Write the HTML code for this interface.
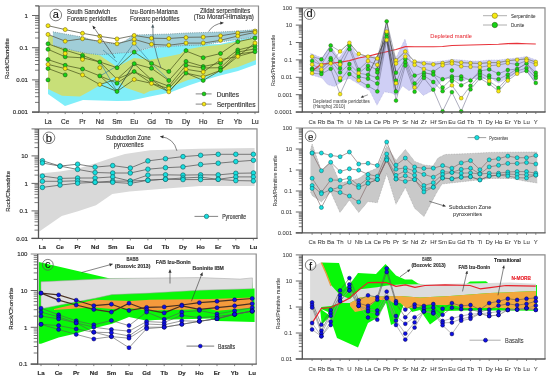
<!DOCTYPE html><html><head><meta charset="utf-8"><style>html,body{margin:0;padding:0;background:#fff;}svg{display:block;font-family:"Liberation Sans",sans-serif;will-change:transform;}</style></head><body>
<svg width="550" height="379" viewBox="0 0 550 379">
<rect width="550" height="379" fill="#fff"/>
<polygon points="48,45 65,48 83,52 100,54.5 117,53 134,52 151,48 169,46.5 186,45 203,44.5 220,44 238,40 256,36.5 256,64.5 238,71 220,75.5 205,80 190,85 170,92.5 150,96.5 130,100.7 117,101 100,100.5 83,100 65,106 48,94" fill="#80eef9" stroke="none" stroke-width="0.6"/>
<polygon points="48,36 53,36 53,45 65,48 83,52 100,55.5 117,67 134,58 150,59.8 168,56.5 180,54 186,49.5 203,46.5 220,45 238,41.5 256,37.5 256,60 238,67 220,71.5 208,76 188,80 168,88 150,91 144,94 125,87.5 114,77 102,84 90,91 80,96.4 62,95.7 48,89" fill="#c8df78" stroke="none" stroke-width="0.6"/>
<polygon points="52.9,31.8 65,34 82.3,37 100.9,42.7 117,44 125,41 134,35 151,34.5 169,34 186,33 203,32.5 220,32 238,31 257.5,29.5 257.5,36.6 238,39.5 220,42 203,45 186,45.5 169,46.5 151,47.5 134,52 117,53.3 100.9,54.7 87.8,53.6 74.7,50.9 63.8,48.2 52.9,45.4" fill="#a0ced8" stroke="none" stroke-width="0.6"/>
<polyline points="52.9,31.8 65,34 82.3,37 100.9,42.7 117,44 125,41 134,35 151,34.5 169,34 186,33 203,32.5 220,32 238,31 257.5,29.5" fill="none" stroke="#5a7f88" stroke-width="0.7" stroke-linejoin="round" stroke-dasharray="1,1.2"/>
<polyline points="257.5,36.6 238,39.5 220,42 203,45 186,45.5 169,46.5 151,47.5 134,52 117,53.3 100.9,54.7 87.8,53.6 74.7,50.9 63.8,48.2 52.9,45.4" fill="none" stroke="#5a7f88" stroke-width="0.7" stroke-linejoin="round" stroke-dasharray="1,1.2"/>
<polyline points="103,50 117,62" fill="none" stroke="#3f86a0" stroke-width="0.7" stroke-linejoin="round"/>
<polyline points="134,43.2 117,66 100,76" fill="none" stroke="#3f86a0" stroke-width="0.7" stroke-linejoin="round"/>
<polyline points="134,43.2 151,63 169,80" fill="none" stroke="#3f86a0" stroke-width="0.7" stroke-linejoin="round"/>
<polyline points="100,62 117,91.4 134,63.7" fill="none" stroke="#3f86a0" stroke-width="0.7" stroke-linejoin="round"/>
<polyline points="48,25.7 65.2,29.6 82.5,33.3 99.8,36.3 117,38.9 134.2,35.4 151.5,38.2 168.8,38.5 186,37.3 203.2,37.1 220.5,35.8 237.8,33 255,31" fill="none" stroke="#5a5a4a" stroke-width="0.8" stroke-linejoin="round"/>
<polyline points="48,34.4 65.2,41.2 82.5,38.7 99.8,41.2 117,43.8 134.2,39.3 151.5,44.3 168.8,45.2 186,43.1 203.2,43.1 220.5,40.3 237.8,36 255,32.4" fill="none" stroke="#5a5a4a" stroke-width="0.8" stroke-linejoin="round"/>
<polyline points="48,43.8 65.2,50.2 82.5,55.4 99.8,62 117,67.7 134.2,52.1 151.5,63.4 168.8,71.5 186,51 203.2,57.7 220.5,53.5 237.8,41.7 255,38" fill="none" stroke="#4d5a1e" stroke-width="0.75" stroke-linejoin="round"/>
<polyline points="48,49.3 65.2,56.8 82.5,57.8 99.8,62 117,79.2 134.2,63.7 151.5,68.3 168.8,80.5 186,61.4 203.2,66.5 220.5,63 237.8,50 255,45.8" fill="none" stroke="#4d5a1e" stroke-width="0.75" stroke-linejoin="round"/>
<polyline points="48,59.6 65.2,65.3 82.5,69 99.8,75.9 117,83.2 134.2,71.6 151.5,79.7 168.8,86.2 186,65.2 203.2,68 220.5,67.7 237.8,52.1 255,48.8" fill="none" stroke="#4d5a1e" stroke-width="0.75" stroke-linejoin="round"/>
<polyline points="48,64.4 65.2,68.6 82.5,74.9 99.8,84.5 117,91.4 134.2,79.5 151.5,83.4 168.8,88.6 186,69.3 203.2,72 220.5,59.8 237.8,56.4 255,43" fill="none" stroke="#4d5a1e" stroke-width="0.75" stroke-linejoin="round"/>
<polyline points="48,68.5 65.2,74.9" fill="none" stroke="#4d5a1e" stroke-width="0.75" stroke-linejoin="round"/>
<polyline points="99.8,75.9 117,91.4 134.2,63.7 151.5,79.7 168.8,91.8 186,73.1 203.2,76.8 220.5,70.4 237.8,54 255,51.7" fill="none" stroke="#4d5a1e" stroke-width="0.75" stroke-linejoin="round"/>
<polyline points="99.8,84.5 117,79.2 134.2,71.6 151.5,83.4 168.8,91.8 186,73.1 203.2,80.4 220.5,70.4 237.8,56.4 255,51.7" fill="none" stroke="#4d5a1e" stroke-width="0.75" stroke-linejoin="round"/>
<circle cx="48" cy="43.8" r="2" fill="#14d414" stroke="#1f5a14" stroke-width="0.6"/>
<circle cx="48" cy="49.3" r="2" fill="#14d414" stroke="#1f5a14" stroke-width="0.6"/>
<circle cx="48" cy="59.6" r="2" fill="#14d414" stroke="#1f5a14" stroke-width="0.6"/>
<circle cx="48" cy="68.5" r="2" fill="#14d414" stroke="#1f5a14" stroke-width="0.6"/>
<circle cx="48" cy="79.9" r="2" fill="#14d414" stroke="#1f5a14" stroke-width="0.6"/>
<circle cx="65.2" cy="50.2" r="2" fill="#14d414" stroke="#1f5a14" stroke-width="0.6"/>
<circle cx="65.2" cy="56.8" r="2" fill="#14d414" stroke="#1f5a14" stroke-width="0.6"/>
<circle cx="65.2" cy="65.3" r="2" fill="#14d414" stroke="#1f5a14" stroke-width="0.6"/>
<circle cx="65.2" cy="74.9" r="2" fill="#14d414" stroke="#1f5a14" stroke-width="0.6"/>
<circle cx="82.5" cy="55.4" r="2" fill="#14d414" stroke="#1f5a14" stroke-width="0.6"/>
<circle cx="82.5" cy="57.8" r="2" fill="#14d414" stroke="#1f5a14" stroke-width="0.6"/>
<circle cx="82.5" cy="69" r="2" fill="#14d414" stroke="#1f5a14" stroke-width="0.6"/>
<circle cx="99.8" cy="62" r="2" fill="#14d414" stroke="#1f5a14" stroke-width="0.6"/>
<circle cx="99.8" cy="75.9" r="2" fill="#14d414" stroke="#1f5a14" stroke-width="0.6"/>
<circle cx="117" cy="67.7" r="2" fill="#14d414" stroke="#1f5a14" stroke-width="0.6"/>
<circle cx="117" cy="83.2" r="2" fill="#14d414" stroke="#1f5a14" stroke-width="0.6"/>
<circle cx="117" cy="91.4" r="2" fill="#14d414" stroke="#1f5a14" stroke-width="0.6"/>
<circle cx="134.2" cy="52.1" r="2" fill="#14d414" stroke="#1f5a14" stroke-width="0.6"/>
<circle cx="134.2" cy="63.7" r="2" fill="#14d414" stroke="#1f5a14" stroke-width="0.6"/>
<circle cx="134.2" cy="71.6" r="2" fill="#14d414" stroke="#1f5a14" stroke-width="0.6"/>
<circle cx="151.5" cy="63.4" r="2" fill="#14d414" stroke="#1f5a14" stroke-width="0.6"/>
<circle cx="151.5" cy="68.3" r="2" fill="#14d414" stroke="#1f5a14" stroke-width="0.6"/>
<circle cx="151.5" cy="79.7" r="2" fill="#14d414" stroke="#1f5a14" stroke-width="0.6"/>
<circle cx="168.8" cy="71.5" r="2" fill="#14d414" stroke="#1f5a14" stroke-width="0.6"/>
<circle cx="168.8" cy="80.5" r="2" fill="#14d414" stroke="#1f5a14" stroke-width="0.6"/>
<circle cx="168.8" cy="86.2" r="2" fill="#14d414" stroke="#1f5a14" stroke-width="0.6"/>
<circle cx="186" cy="50.6" r="2" fill="#14d414" stroke="#1f5a14" stroke-width="0.6"/>
<circle cx="186" cy="61.4" r="2" fill="#14d414" stroke="#1f5a14" stroke-width="0.6"/>
<circle cx="186" cy="65.2" r="2" fill="#14d414" stroke="#1f5a14" stroke-width="0.6"/>
<circle cx="186" cy="73.1" r="2" fill="#14d414" stroke="#1f5a14" stroke-width="0.6"/>
<circle cx="203.2" cy="57.7" r="2" fill="#14d414" stroke="#1f5a14" stroke-width="0.6"/>
<circle cx="203.2" cy="66.5" r="2" fill="#14d414" stroke="#1f5a14" stroke-width="0.6"/>
<circle cx="203.2" cy="68" r="2" fill="#14d414" stroke="#1f5a14" stroke-width="0.6"/>
<circle cx="203.2" cy="80.4" r="2" fill="#14d414" stroke="#1f5a14" stroke-width="0.6"/>
<circle cx="220.5" cy="53.5" r="2" fill="#14d414" stroke="#1f5a14" stroke-width="0.6"/>
<circle cx="220.5" cy="63" r="2" fill="#14d414" stroke="#1f5a14" stroke-width="0.6"/>
<circle cx="220.5" cy="67.7" r="2" fill="#14d414" stroke="#1f5a14" stroke-width="0.6"/>
<circle cx="220.5" cy="70.4" r="2" fill="#14d414" stroke="#1f5a14" stroke-width="0.6"/>
<circle cx="237.8" cy="41.7" r="2" fill="#14d414" stroke="#1f5a14" stroke-width="0.6"/>
<circle cx="237.8" cy="50" r="2" fill="#14d414" stroke="#1f5a14" stroke-width="0.6"/>
<circle cx="237.8" cy="52.1" r="2" fill="#14d414" stroke="#1f5a14" stroke-width="0.6"/>
<circle cx="237.8" cy="54" r="2" fill="#14d414" stroke="#1f5a14" stroke-width="0.6"/>
<circle cx="255" cy="38" r="2" fill="#14d414" stroke="#1f5a14" stroke-width="0.6"/>
<circle cx="255" cy="45.8" r="2" fill="#14d414" stroke="#1f5a14" stroke-width="0.6"/>
<circle cx="255" cy="48.8" r="2" fill="#14d414" stroke="#1f5a14" stroke-width="0.6"/>
<circle cx="255" cy="51.7" r="2" fill="#14d414" stroke="#1f5a14" stroke-width="0.6"/>
<circle cx="48" cy="25.7" r="2" fill="#f6ea10" stroke="#7a6a10" stroke-width="0.6"/>
<circle cx="48" cy="34.4" r="2" fill="#f6ea10" stroke="#7a6a10" stroke-width="0.6"/>
<circle cx="48" cy="64.4" r="2" fill="#f6ea10" stroke="#7a6a10" stroke-width="0.6"/>
<circle cx="65.2" cy="29.6" r="2" fill="#f6ea10" stroke="#7a6a10" stroke-width="0.6"/>
<circle cx="65.2" cy="41.2" r="2" fill="#f6ea10" stroke="#7a6a10" stroke-width="0.6"/>
<circle cx="65.2" cy="53.5" r="2" fill="#f6ea10" stroke="#7a6a10" stroke-width="0.6"/>
<circle cx="65.2" cy="68.6" r="2" fill="#f6ea10" stroke="#7a6a10" stroke-width="0.6"/>
<circle cx="82.5" cy="33.3" r="2" fill="#f6ea10" stroke="#7a6a10" stroke-width="0.6"/>
<circle cx="82.5" cy="38.7" r="2" fill="#f6ea10" stroke="#7a6a10" stroke-width="0.6"/>
<circle cx="82.5" cy="59.4" r="2" fill="#f6ea10" stroke="#7a6a10" stroke-width="0.6"/>
<circle cx="82.5" cy="74.9" r="2" fill="#f6ea10" stroke="#7a6a10" stroke-width="0.6"/>
<circle cx="99.8" cy="36.3" r="2" fill="#f6ea10" stroke="#7a6a10" stroke-width="0.6"/>
<circle cx="99.8" cy="41.2" r="2" fill="#f6ea10" stroke="#7a6a10" stroke-width="0.6"/>
<circle cx="99.8" cy="67.7" r="2" fill="#f6ea10" stroke="#7a6a10" stroke-width="0.6"/>
<circle cx="99.8" cy="84.5" r="2" fill="#f6ea10" stroke="#7a6a10" stroke-width="0.6"/>
<circle cx="117" cy="38.9" r="2" fill="#f6ea10" stroke="#7a6a10" stroke-width="0.6"/>
<circle cx="117" cy="43.8" r="2" fill="#f6ea10" stroke="#7a6a10" stroke-width="0.6"/>
<circle cx="117" cy="79.2" r="2" fill="#f6ea10" stroke="#7a6a10" stroke-width="0.6"/>
<circle cx="134.2" cy="35.4" r="2" fill="#f6ea10" stroke="#7a6a10" stroke-width="0.6"/>
<circle cx="134.2" cy="39.3" r="2" fill="#f6ea10" stroke="#7a6a10" stroke-width="0.6"/>
<circle cx="134.2" cy="43.2" r="2" fill="#f6ea10" stroke="#7a6a10" stroke-width="0.6"/>
<circle cx="134.2" cy="79.5" r="2" fill="#f6ea10" stroke="#7a6a10" stroke-width="0.6"/>
<circle cx="151.5" cy="38.2" r="2" fill="#f6ea10" stroke="#7a6a10" stroke-width="0.6"/>
<circle cx="151.5" cy="44.3" r="2" fill="#f6ea10" stroke="#7a6a10" stroke-width="0.6"/>
<circle cx="151.5" cy="83.4" r="2" fill="#f6ea10" stroke="#7a6a10" stroke-width="0.6"/>
<circle cx="168.8" cy="38.5" r="2" fill="#f6ea10" stroke="#7a6a10" stroke-width="0.6"/>
<circle cx="168.8" cy="45.2" r="2" fill="#f6ea10" stroke="#7a6a10" stroke-width="0.6"/>
<circle cx="168.8" cy="88.6" r="2" fill="#f6ea10" stroke="#7a6a10" stroke-width="0.6"/>
<circle cx="168.8" cy="91.8" r="2" fill="#f6ea10" stroke="#7a6a10" stroke-width="0.6"/>
<circle cx="186" cy="37.6" r="2" fill="#f6ea10" stroke="#7a6a10" stroke-width="0.6"/>
<circle cx="186" cy="43" r="2" fill="#f6ea10" stroke="#7a6a10" stroke-width="0.6"/>
<circle cx="186" cy="69.3" r="2" fill="#f6ea10" stroke="#7a6a10" stroke-width="0.6"/>
<circle cx="203.2" cy="37.1" r="2" fill="#f6ea10" stroke="#7a6a10" stroke-width="0.6"/>
<circle cx="203.2" cy="43" r="2" fill="#f6ea10" stroke="#7a6a10" stroke-width="0.6"/>
<circle cx="203.2" cy="72" r="2" fill="#f6ea10" stroke="#7a6a10" stroke-width="0.6"/>
<circle cx="203.2" cy="76.8" r="2" fill="#f6ea10" stroke="#7a6a10" stroke-width="0.6"/>
<circle cx="220.5" cy="35.8" r="2" fill="#f6ea10" stroke="#7a6a10" stroke-width="0.6"/>
<circle cx="220.5" cy="40.3" r="2" fill="#f6ea10" stroke="#7a6a10" stroke-width="0.6"/>
<circle cx="220.5" cy="59.8" r="2" fill="#f6ea10" stroke="#7a6a10" stroke-width="0.6"/>
<circle cx="237.8" cy="33" r="2" fill="#f6ea10" stroke="#7a6a10" stroke-width="0.6"/>
<circle cx="237.8" cy="36" r="2" fill="#f6ea10" stroke="#7a6a10" stroke-width="0.6"/>
<circle cx="237.8" cy="56.4" r="2" fill="#f6ea10" stroke="#7a6a10" stroke-width="0.6"/>
<circle cx="255" cy="31" r="2" fill="#f6ea10" stroke="#7a6a10" stroke-width="0.6"/>
<circle cx="255" cy="32.4" r="2" fill="#f6ea10" stroke="#7a6a10" stroke-width="0.6"/>
<circle cx="255" cy="43" r="2" fill="#f6ea10" stroke="#7a6a10" stroke-width="0.6"/>
<line x1="115" y1="58" x2="92.7" y2="25.8" stroke="#333" stroke-width="0.6"/>
<polygon points="92.7,25.8 95.8,27.5 93.2,29.3" fill="#333" stroke="none" stroke-width="0.6"/>
<path d="M161 68 Q152 45 152.8 24.5" fill="none" stroke="#4a5a60" stroke-width="0.7"/>
<polygon points="152.8,24.5 154.3,27.8 151.1,27.6" fill="#4a5a60" stroke="none" stroke-width="0.6"/>
<path d="M208.6 31.6 Q213 24 223.5 22.8" fill="none" stroke="#333" stroke-width="0.6"/>
<polygon points="223.5,22.8 220.5,24.8 220.1,21.6" fill="#333" stroke="none" stroke-width="0.6"/>
<text x="67" y="13.6" font-size="6.8" fill="#333" stroke="#333" stroke-width="0.15" text-anchor="start" font-weight="normal" textLength="43.2" lengthAdjust="spacingAndGlyphs">South Sandwich</text>
<text x="67" y="20.6" font-size="6.8" fill="#333" stroke="#333" stroke-width="0.15" text-anchor="start" font-weight="normal" textLength="49.7" lengthAdjust="spacingAndGlyphs">Forearc peridotites</text>
<text x="129.9" y="13.6" font-size="6.8" fill="#333" stroke="#333" stroke-width="0.15" text-anchor="start" font-weight="normal" textLength="47.9" lengthAdjust="spacingAndGlyphs">Izu-Bonin-Mariana</text>
<text x="129.9" y="20.6" font-size="6.8" fill="#333" stroke="#333" stroke-width="0.15" text-anchor="start" font-weight="normal" textLength="49.6" lengthAdjust="spacingAndGlyphs">Forearc peridotites</text>
<text x="199.9" y="12.5" font-size="6.8" fill="#333" stroke="#333" stroke-width="0.15" text-anchor="start" font-weight="normal" textLength="50.3" lengthAdjust="spacingAndGlyphs">Zildat serpentinites</text>
<text x="193.7" y="19.3" font-size="6.8" fill="#333" stroke="#333" stroke-width="0.15" text-anchor="start" font-weight="normal" textLength="60.2" lengthAdjust="spacingAndGlyphs">(Tso Morari-Himalaya)</text>
<line x1="195.7" y1="93.9" x2="211.6" y2="93.9" stroke="#666" stroke-width="0.8"/>
<circle cx="204" cy="93.9" r="1.9" fill="#14d414" stroke="#1f5a14" stroke-width="0.6"/>
<line x1="195.7" y1="104.1" x2="211.6" y2="104.1" stroke="#666" stroke-width="0.8"/>
<circle cx="204" cy="104.1" r="1.9" fill="#f6ea10" stroke="#7a6a10" stroke-width="0.6"/>
<text x="216.7" y="96.5" font-size="7" fill="#333" stroke="#333" stroke-width="0.15" text-anchor="start" font-weight="normal" textLength="22.3" lengthAdjust="spacingAndGlyphs">Dunites</text>
<text x="216.7" y="106.6" font-size="7" fill="#333" stroke="#333" stroke-width="0.15" text-anchor="start" font-weight="normal" textLength="38.8" lengthAdjust="spacingAndGlyphs">Serpentinites</text>
<circle cx="55.8" cy="15" r="5.8" fill="none" stroke="#555" stroke-width="0.75"/>
<text x="55.8" y="18.4" font-size="11" fill="#111" stroke="#111" stroke-width="0.15" text-anchor="middle" font-weight="normal">a</text>
<path d="M35.5 6 H258.5 V112.1" fill="none" stroke="#8a8a8a" stroke-width="1.2"/>
<line x1="32" y1="112.1" x2="39" y2="112.1" stroke="#666" stroke-width="1.0"/>
<line x1="35" y1="102.4" x2="39" y2="102.4" stroke="#555" stroke-width="0.8"/>
<line x1="35" y1="96.7" x2="39" y2="96.7" stroke="#555" stroke-width="0.8"/>
<line x1="35" y1="92.7" x2="39" y2="92.7" stroke="#555" stroke-width="0.8"/>
<line x1="35" y1="89.6" x2="39" y2="89.6" stroke="#555" stroke-width="0.8"/>
<line x1="35" y1="87" x2="39" y2="87" stroke="#555" stroke-width="0.8"/>
<line x1="35" y1="84.9" x2="39" y2="84.9" stroke="#555" stroke-width="0.8"/>
<line x1="35" y1="83" x2="39" y2="83" stroke="#555" stroke-width="0.8"/>
<line x1="35" y1="81.4" x2="39" y2="81.4" stroke="#555" stroke-width="0.8"/>
<line x1="32" y1="79.9" x2="39" y2="79.9" stroke="#666" stroke-width="1.0"/>
<line x1="35" y1="70.2" x2="39" y2="70.2" stroke="#555" stroke-width="0.8"/>
<line x1="35" y1="64.5" x2="39" y2="64.5" stroke="#555" stroke-width="0.8"/>
<line x1="35" y1="60.5" x2="39" y2="60.5" stroke="#555" stroke-width="0.8"/>
<line x1="35" y1="57.4" x2="39" y2="57.4" stroke="#555" stroke-width="0.8"/>
<line x1="35" y1="54.8" x2="39" y2="54.8" stroke="#555" stroke-width="0.8"/>
<line x1="35" y1="52.7" x2="39" y2="52.7" stroke="#555" stroke-width="0.8"/>
<line x1="35" y1="50.8" x2="39" y2="50.8" stroke="#555" stroke-width="0.8"/>
<line x1="35" y1="49.2" x2="39" y2="49.2" stroke="#555" stroke-width="0.8"/>
<line x1="32" y1="47.7" x2="39" y2="47.7" stroke="#666" stroke-width="1.0"/>
<line x1="35" y1="38" x2="39" y2="38" stroke="#555" stroke-width="0.8"/>
<line x1="35" y1="32.3" x2="39" y2="32.3" stroke="#555" stroke-width="0.8"/>
<line x1="35" y1="28.3" x2="39" y2="28.3" stroke="#555" stroke-width="0.8"/>
<line x1="35" y1="25.2" x2="39" y2="25.2" stroke="#555" stroke-width="0.8"/>
<line x1="35" y1="22.6" x2="39" y2="22.6" stroke="#555" stroke-width="0.8"/>
<line x1="35" y1="20.5" x2="39" y2="20.5" stroke="#555" stroke-width="0.8"/>
<line x1="35" y1="18.6" x2="39" y2="18.6" stroke="#555" stroke-width="0.8"/>
<line x1="35" y1="17" x2="39" y2="17" stroke="#555" stroke-width="0.8"/>
<line x1="32" y1="15.5" x2="39" y2="15.5" stroke="#666" stroke-width="1.0"/>
<line x1="35" y1="5.8" x2="39" y2="5.8" stroke="#555" stroke-width="0.8"/>
<path d="M39 6 V112.1 H259.1" fill="none" stroke="#555" stroke-width="1.3"/>
<line x1="32" y1="112.1" x2="39" y2="112.1" stroke="#555" stroke-width="1.3"/>
<line x1="48" y1="112.1" x2="48" y2="114.1" stroke="#666" stroke-width="0.8"/>
<line x1="65.2" y1="112.1" x2="65.2" y2="114.1" stroke="#666" stroke-width="0.8"/>
<line x1="82.5" y1="112.1" x2="82.5" y2="114.1" stroke="#666" stroke-width="0.8"/>
<line x1="99.8" y1="112.1" x2="99.8" y2="114.1" stroke="#666" stroke-width="0.8"/>
<line x1="117" y1="112.1" x2="117" y2="114.1" stroke="#666" stroke-width="0.8"/>
<line x1="134.2" y1="112.1" x2="134.2" y2="114.1" stroke="#666" stroke-width="0.8"/>
<line x1="151.5" y1="112.1" x2="151.5" y2="114.1" stroke="#666" stroke-width="0.8"/>
<line x1="168.8" y1="112.1" x2="168.8" y2="114.1" stroke="#666" stroke-width="0.8"/>
<line x1="186" y1="112.1" x2="186" y2="114.1" stroke="#666" stroke-width="0.8"/>
<line x1="203.2" y1="112.1" x2="203.2" y2="114.1" stroke="#666" stroke-width="0.8"/>
<line x1="220.5" y1="112.1" x2="220.5" y2="114.1" stroke="#666" stroke-width="0.8"/>
<line x1="237.8" y1="112.1" x2="237.8" y2="114.1" stroke="#666" stroke-width="0.8"/>
<line x1="255" y1="112.1" x2="255" y2="114.1" stroke="#666" stroke-width="0.8"/>
<text x="28" y="17.7" font-size="6.1" fill="#2a2a2a" stroke="#2a2a2a" stroke-width="0.15" text-anchor="end" font-weight="normal">1</text>
<text x="28" y="49.9" font-size="6.1" fill="#2a2a2a" stroke="#2a2a2a" stroke-width="0.15" text-anchor="end" font-weight="normal">0.1</text>
<text x="28" y="82.1" font-size="6.1" fill="#2a2a2a" stroke="#2a2a2a" stroke-width="0.15" text-anchor="end" font-weight="normal">0.01</text>
<text x="28" y="114.3" font-size="6.1" fill="#2a2a2a" stroke="#2a2a2a" stroke-width="0.15" text-anchor="end" font-weight="normal">0.001</text>
<text x="48" y="123.7" font-size="6.5" fill="#2a2a2a" stroke="#2a2a2a" stroke-width="0.15" text-anchor="middle" font-weight="normal">La</text>
<text x="65.2" y="123.7" font-size="6.5" fill="#2a2a2a" stroke="#2a2a2a" stroke-width="0.15" text-anchor="middle" font-weight="normal">Ce</text>
<text x="82.5" y="123.7" font-size="6.5" fill="#2a2a2a" stroke="#2a2a2a" stroke-width="0.15" text-anchor="middle" font-weight="normal">Pr</text>
<text x="99.8" y="123.7" font-size="6.5" fill="#2a2a2a" stroke="#2a2a2a" stroke-width="0.15" text-anchor="middle" font-weight="normal">Nd</text>
<text x="117" y="123.7" font-size="6.5" fill="#2a2a2a" stroke="#2a2a2a" stroke-width="0.15" text-anchor="middle" font-weight="normal">Sm</text>
<text x="134.2" y="123.7" font-size="6.5" fill="#2a2a2a" stroke="#2a2a2a" stroke-width="0.15" text-anchor="middle" font-weight="normal">Eu</text>
<text x="151.5" y="123.7" font-size="6.5" fill="#2a2a2a" stroke="#2a2a2a" stroke-width="0.15" text-anchor="middle" font-weight="normal">Gd</text>
<text x="168.8" y="123.7" font-size="6.5" fill="#2a2a2a" stroke="#2a2a2a" stroke-width="0.15" text-anchor="middle" font-weight="normal">Tb</text>
<text x="186" y="123.7" font-size="6.5" fill="#2a2a2a" stroke="#2a2a2a" stroke-width="0.15" text-anchor="middle" font-weight="normal">Dy</text>
<text x="203.2" y="123.7" font-size="6.5" fill="#2a2a2a" stroke="#2a2a2a" stroke-width="0.15" text-anchor="middle" font-weight="normal">Ho</text>
<text x="220.5" y="123.7" font-size="6.5" fill="#2a2a2a" stroke="#2a2a2a" stroke-width="0.15" text-anchor="middle" font-weight="normal">Er</text>
<text x="237.8" y="123.7" font-size="6.5" fill="#2a2a2a" stroke="#2a2a2a" stroke-width="0.15" text-anchor="middle" font-weight="normal">Yb</text>
<text x="255" y="123.7" font-size="6.5" fill="#2a2a2a" stroke="#2a2a2a" stroke-width="0.15" text-anchor="middle" font-weight="normal">Lu</text>
<text transform="translate(9.2 58.6) rotate(-90)" font-size="5.9" fill="#2a2a2a" stroke="#2a2a2a" stroke-width="0.15" text-anchor="middle">Rock/Chondrite</text>
<polygon points="39.3,173.5 60,171.5 78,168.5 95,163.5 110,158.5 125,154 150,150.3 200,148.8 254.6,148 254.6,186 200,186 160,188.9 129.5,191.4 112.3,194 96,205.3 78,211.3 61.7,216 39.3,231.5" fill="#d9d9d9" stroke="none" stroke-width="0.6"/>
<polyline points="42.4,160.7 60,166.1 77.6,164.2 95.1,167.1 112.7,165.6 130.3,168 147.9,160.9 165.5,158.7 183,156.6 200.6,155.3 218.2,154.3 235.8,154.3 253.4,154.3" fill="none" stroke="#555" stroke-width="0.75" stroke-linejoin="round"/>
<polyline points="42.4,163 60,166.1 77.6,169.4 95.1,172.5 112.7,173 130.3,173 147.9,169.2 165.5,167.7 183,166.9 200.6,164.5 218.2,163.2 235.8,161.6 253.4,160.3" fill="none" stroke="#555" stroke-width="0.75" stroke-linejoin="round"/>
<polyline points="42.4,176.1 60,178.4 77.6,178 95.1,178 112.7,176.9 130.3,181.1 147.9,175.1 165.5,174.8 183,175.1 200.6,174.8 218.2,174.9 235.8,173.3 253.4,173" fill="none" stroke="#555" stroke-width="0.75" stroke-linejoin="round"/>
<polyline points="42.4,181.3 60,181.3 77.6,180.8 95.1,182.3 112.7,181.1 130.3,181.1 147.9,180.3 165.5,179.2 183,178 200.6,177.2 218.2,179.3 235.8,176.9 253.4,176.9" fill="none" stroke="#555" stroke-width="0.75" stroke-linejoin="round"/>
<polyline points="42.4,187.4 60,185.1 77.6,183.2 95.1,182.3 112.7,182.3 130.3,183.4 147.9,180.3 165.5,179.2 183,179.6 200.6,179.6 218.2,179.3 235.8,180.6 253.4,180.9" fill="none" stroke="#555" stroke-width="0.75" stroke-linejoin="round"/>
<circle cx="42.4" cy="160.7" r="2.3" fill="#16dede" stroke="#0b5d60" stroke-width="0.6"/>
<circle cx="60" cy="166.1" r="2.3" fill="#16dede" stroke="#0b5d60" stroke-width="0.6"/>
<circle cx="77.6" cy="164.2" r="2.3" fill="#16dede" stroke="#0b5d60" stroke-width="0.6"/>
<circle cx="95.1" cy="167.1" r="2.3" fill="#16dede" stroke="#0b5d60" stroke-width="0.6"/>
<circle cx="112.7" cy="165.6" r="2.3" fill="#16dede" stroke="#0b5d60" stroke-width="0.6"/>
<circle cx="130.3" cy="168" r="2.3" fill="#16dede" stroke="#0b5d60" stroke-width="0.6"/>
<circle cx="147.9" cy="160.9" r="2.3" fill="#16dede" stroke="#0b5d60" stroke-width="0.6"/>
<circle cx="165.5" cy="158.7" r="2.3" fill="#16dede" stroke="#0b5d60" stroke-width="0.6"/>
<circle cx="183" cy="156.6" r="2.3" fill="#16dede" stroke="#0b5d60" stroke-width="0.6"/>
<circle cx="200.6" cy="155.3" r="2.3" fill="#16dede" stroke="#0b5d60" stroke-width="0.6"/>
<circle cx="218.2" cy="154.3" r="2.3" fill="#16dede" stroke="#0b5d60" stroke-width="0.6"/>
<circle cx="235.8" cy="154.3" r="2.3" fill="#16dede" stroke="#0b5d60" stroke-width="0.6"/>
<circle cx="253.4" cy="154.3" r="2.3" fill="#16dede" stroke="#0b5d60" stroke-width="0.6"/>
<circle cx="42.4" cy="163" r="2.3" fill="#16dede" stroke="#0b5d60" stroke-width="0.6"/>
<circle cx="60" cy="166.1" r="2.3" fill="#16dede" stroke="#0b5d60" stroke-width="0.6"/>
<circle cx="77.6" cy="169.4" r="2.3" fill="#16dede" stroke="#0b5d60" stroke-width="0.6"/>
<circle cx="95.1" cy="172.5" r="2.3" fill="#16dede" stroke="#0b5d60" stroke-width="0.6"/>
<circle cx="112.7" cy="173" r="2.3" fill="#16dede" stroke="#0b5d60" stroke-width="0.6"/>
<circle cx="130.3" cy="173" r="2.3" fill="#16dede" stroke="#0b5d60" stroke-width="0.6"/>
<circle cx="147.9" cy="169.2" r="2.3" fill="#16dede" stroke="#0b5d60" stroke-width="0.6"/>
<circle cx="165.5" cy="167.7" r="2.3" fill="#16dede" stroke="#0b5d60" stroke-width="0.6"/>
<circle cx="183" cy="166.9" r="2.3" fill="#16dede" stroke="#0b5d60" stroke-width="0.6"/>
<circle cx="200.6" cy="164.5" r="2.3" fill="#16dede" stroke="#0b5d60" stroke-width="0.6"/>
<circle cx="218.2" cy="163.2" r="2.3" fill="#16dede" stroke="#0b5d60" stroke-width="0.6"/>
<circle cx="235.8" cy="161.6" r="2.3" fill="#16dede" stroke="#0b5d60" stroke-width="0.6"/>
<circle cx="253.4" cy="160.3" r="2.3" fill="#16dede" stroke="#0b5d60" stroke-width="0.6"/>
<circle cx="42.4" cy="176.1" r="2.3" fill="#16dede" stroke="#0b5d60" stroke-width="0.6"/>
<circle cx="60" cy="178.4" r="2.3" fill="#16dede" stroke="#0b5d60" stroke-width="0.6"/>
<circle cx="77.6" cy="178" r="2.3" fill="#16dede" stroke="#0b5d60" stroke-width="0.6"/>
<circle cx="95.1" cy="178" r="2.3" fill="#16dede" stroke="#0b5d60" stroke-width="0.6"/>
<circle cx="112.7" cy="176.9" r="2.3" fill="#16dede" stroke="#0b5d60" stroke-width="0.6"/>
<circle cx="130.3" cy="181.1" r="2.3" fill="#16dede" stroke="#0b5d60" stroke-width="0.6"/>
<circle cx="147.9" cy="175.1" r="2.3" fill="#16dede" stroke="#0b5d60" stroke-width="0.6"/>
<circle cx="165.5" cy="174.8" r="2.3" fill="#16dede" stroke="#0b5d60" stroke-width="0.6"/>
<circle cx="183" cy="175.1" r="2.3" fill="#16dede" stroke="#0b5d60" stroke-width="0.6"/>
<circle cx="200.6" cy="174.8" r="2.3" fill="#16dede" stroke="#0b5d60" stroke-width="0.6"/>
<circle cx="218.2" cy="174.9" r="2.3" fill="#16dede" stroke="#0b5d60" stroke-width="0.6"/>
<circle cx="235.8" cy="173.3" r="2.3" fill="#16dede" stroke="#0b5d60" stroke-width="0.6"/>
<circle cx="253.4" cy="173" r="2.3" fill="#16dede" stroke="#0b5d60" stroke-width="0.6"/>
<circle cx="42.4" cy="181.3" r="2.3" fill="#16dede" stroke="#0b5d60" stroke-width="0.6"/>
<circle cx="60" cy="181.3" r="2.3" fill="#16dede" stroke="#0b5d60" stroke-width="0.6"/>
<circle cx="77.6" cy="180.8" r="2.3" fill="#16dede" stroke="#0b5d60" stroke-width="0.6"/>
<circle cx="95.1" cy="182.3" r="2.3" fill="#16dede" stroke="#0b5d60" stroke-width="0.6"/>
<circle cx="112.7" cy="181.1" r="2.3" fill="#16dede" stroke="#0b5d60" stroke-width="0.6"/>
<circle cx="130.3" cy="181.1" r="2.3" fill="#16dede" stroke="#0b5d60" stroke-width="0.6"/>
<circle cx="147.9" cy="180.3" r="2.3" fill="#16dede" stroke="#0b5d60" stroke-width="0.6"/>
<circle cx="165.5" cy="179.2" r="2.3" fill="#16dede" stroke="#0b5d60" stroke-width="0.6"/>
<circle cx="183" cy="178" r="2.3" fill="#16dede" stroke="#0b5d60" stroke-width="0.6"/>
<circle cx="200.6" cy="177.2" r="2.3" fill="#16dede" stroke="#0b5d60" stroke-width="0.6"/>
<circle cx="218.2" cy="179.3" r="2.3" fill="#16dede" stroke="#0b5d60" stroke-width="0.6"/>
<circle cx="235.8" cy="176.9" r="2.3" fill="#16dede" stroke="#0b5d60" stroke-width="0.6"/>
<circle cx="253.4" cy="176.9" r="2.3" fill="#16dede" stroke="#0b5d60" stroke-width="0.6"/>
<circle cx="42.4" cy="187.4" r="2.3" fill="#16dede" stroke="#0b5d60" stroke-width="0.6"/>
<circle cx="60" cy="185.1" r="2.3" fill="#16dede" stroke="#0b5d60" stroke-width="0.6"/>
<circle cx="77.6" cy="183.2" r="2.3" fill="#16dede" stroke="#0b5d60" stroke-width="0.6"/>
<circle cx="95.1" cy="182.3" r="2.3" fill="#16dede" stroke="#0b5d60" stroke-width="0.6"/>
<circle cx="112.7" cy="182.3" r="2.3" fill="#16dede" stroke="#0b5d60" stroke-width="0.6"/>
<circle cx="130.3" cy="183.4" r="2.3" fill="#16dede" stroke="#0b5d60" stroke-width="0.6"/>
<circle cx="147.9" cy="180.3" r="2.3" fill="#16dede" stroke="#0b5d60" stroke-width="0.6"/>
<circle cx="165.5" cy="179.2" r="2.3" fill="#16dede" stroke="#0b5d60" stroke-width="0.6"/>
<circle cx="183" cy="179.6" r="2.3" fill="#16dede" stroke="#0b5d60" stroke-width="0.6"/>
<circle cx="200.6" cy="179.6" r="2.3" fill="#16dede" stroke="#0b5d60" stroke-width="0.6"/>
<circle cx="218.2" cy="179.3" r="2.3" fill="#16dede" stroke="#0b5d60" stroke-width="0.6"/>
<circle cx="235.8" cy="180.6" r="2.3" fill="#16dede" stroke="#0b5d60" stroke-width="0.6"/>
<circle cx="253.4" cy="180.9" r="2.3" fill="#16dede" stroke="#0b5d60" stroke-width="0.6"/>
<path d="M176.9 150.8 Q174 138 160.2 136.5" fill="none" stroke="#333" stroke-width="0.6"/>
<polygon points="160.2,136.5 163.6,135.3 163.2,138.4" fill="#333" stroke="none" stroke-width="0.6"/>
<text x="106.1" y="139.6" font-size="6.8" fill="#333" stroke="#333" stroke-width="0.15" text-anchor="start" font-weight="normal" textLength="44.8" lengthAdjust="spacingAndGlyphs">Subduction Zone</text>
<text x="113.8" y="147" font-size="6.8" fill="#333" stroke="#333" stroke-width="0.15" text-anchor="start" font-weight="normal" textLength="29.8" lengthAdjust="spacingAndGlyphs">pyroxenites</text>
<line x1="194.5" y1="216.4" x2="218.1" y2="216.4" stroke="#666" stroke-width="0.8"/>
<circle cx="206.5" cy="216.4" r="2.2" fill="#16dede" stroke="#0b5d60" stroke-width="0.6"/>
<text x="222.2" y="218.8" font-size="6.9" fill="#333" stroke="#333" stroke-width="0.15" text-anchor="start" font-weight="normal" textLength="24" lengthAdjust="spacingAndGlyphs">Pyroxenite</text>
<circle cx="49" cy="137.8" r="5.8" fill="none" stroke="#555" stroke-width="0.75"/>
<text x="49" y="141.5" font-size="11.3" fill="#111" stroke="#111" stroke-width="0.15" text-anchor="middle" font-weight="normal">b</text>
<path d="M31.5 128.9 H257 V238.4" fill="none" stroke="#8a8a8a" stroke-width="1.2"/>
<line x1="31.5" y1="238.4" x2="38.5" y2="238.4" stroke="#666" stroke-width="1.0"/>
<line x1="34.5" y1="230.1" x2="38.5" y2="230.1" stroke="#555" stroke-width="0.8"/>
<line x1="34.5" y1="225.3" x2="38.5" y2="225.3" stroke="#555" stroke-width="0.8"/>
<line x1="34.5" y1="221.8" x2="38.5" y2="221.8" stroke="#555" stroke-width="0.8"/>
<line x1="34.5" y1="219.2" x2="38.5" y2="219.2" stroke="#555" stroke-width="0.8"/>
<line x1="34.5" y1="217" x2="38.5" y2="217" stroke="#555" stroke-width="0.8"/>
<line x1="34.5" y1="215.2" x2="38.5" y2="215.2" stroke="#555" stroke-width="0.8"/>
<line x1="34.5" y1="213.6" x2="38.5" y2="213.6" stroke="#555" stroke-width="0.8"/>
<line x1="34.5" y1="212.2" x2="38.5" y2="212.2" stroke="#555" stroke-width="0.8"/>
<line x1="31.5" y1="210.9" x2="38.5" y2="210.9" stroke="#666" stroke-width="1.0"/>
<line x1="34.5" y1="202.6" x2="38.5" y2="202.6" stroke="#555" stroke-width="0.8"/>
<line x1="34.5" y1="197.8" x2="38.5" y2="197.8" stroke="#555" stroke-width="0.8"/>
<line x1="34.5" y1="194.3" x2="38.5" y2="194.3" stroke="#555" stroke-width="0.8"/>
<line x1="34.5" y1="191.7" x2="38.5" y2="191.7" stroke="#555" stroke-width="0.8"/>
<line x1="34.5" y1="189.5" x2="38.5" y2="189.5" stroke="#555" stroke-width="0.8"/>
<line x1="34.5" y1="187.7" x2="38.5" y2="187.7" stroke="#555" stroke-width="0.8"/>
<line x1="34.5" y1="186.1" x2="38.5" y2="186.1" stroke="#555" stroke-width="0.8"/>
<line x1="34.5" y1="184.7" x2="38.5" y2="184.7" stroke="#555" stroke-width="0.8"/>
<line x1="31.5" y1="183.4" x2="38.5" y2="183.4" stroke="#666" stroke-width="1.0"/>
<line x1="34.5" y1="175.1" x2="38.5" y2="175.1" stroke="#555" stroke-width="0.8"/>
<line x1="34.5" y1="170.3" x2="38.5" y2="170.3" stroke="#555" stroke-width="0.8"/>
<line x1="34.5" y1="166.8" x2="38.5" y2="166.8" stroke="#555" stroke-width="0.8"/>
<line x1="34.5" y1="164.2" x2="38.5" y2="164.2" stroke="#555" stroke-width="0.8"/>
<line x1="34.5" y1="162" x2="38.5" y2="162" stroke="#555" stroke-width="0.8"/>
<line x1="34.5" y1="160.2" x2="38.5" y2="160.2" stroke="#555" stroke-width="0.8"/>
<line x1="34.5" y1="158.6" x2="38.5" y2="158.6" stroke="#555" stroke-width="0.8"/>
<line x1="34.5" y1="157.2" x2="38.5" y2="157.2" stroke="#555" stroke-width="0.8"/>
<line x1="31.5" y1="155.9" x2="38.5" y2="155.9" stroke="#666" stroke-width="1.0"/>
<line x1="34.5" y1="147.6" x2="38.5" y2="147.6" stroke="#555" stroke-width="0.8"/>
<line x1="34.5" y1="142.8" x2="38.5" y2="142.8" stroke="#555" stroke-width="0.8"/>
<line x1="34.5" y1="139.3" x2="38.5" y2="139.3" stroke="#555" stroke-width="0.8"/>
<line x1="34.5" y1="136.7" x2="38.5" y2="136.7" stroke="#555" stroke-width="0.8"/>
<line x1="34.5" y1="134.5" x2="38.5" y2="134.5" stroke="#555" stroke-width="0.8"/>
<line x1="34.5" y1="132.7" x2="38.5" y2="132.7" stroke="#555" stroke-width="0.8"/>
<line x1="34.5" y1="131.1" x2="38.5" y2="131.1" stroke="#555" stroke-width="0.8"/>
<line x1="34.5" y1="129.7" x2="38.5" y2="129.7" stroke="#555" stroke-width="0.8"/>
<path d="M38.5 128.9 V238.4 H257.6" fill="none" stroke="#555" stroke-width="1.3"/>
<line x1="31.5" y1="238.4" x2="38.5" y2="238.4" stroke="#555" stroke-width="1.3"/>
<line x1="42.4" y1="238.4" x2="42.4" y2="240.4" stroke="#666" stroke-width="0.8"/>
<line x1="60" y1="238.4" x2="60" y2="240.4" stroke="#666" stroke-width="0.8"/>
<line x1="77.6" y1="238.4" x2="77.6" y2="240.4" stroke="#666" stroke-width="0.8"/>
<line x1="95.1" y1="238.4" x2="95.1" y2="240.4" stroke="#666" stroke-width="0.8"/>
<line x1="112.7" y1="238.4" x2="112.7" y2="240.4" stroke="#666" stroke-width="0.8"/>
<line x1="130.3" y1="238.4" x2="130.3" y2="240.4" stroke="#666" stroke-width="0.8"/>
<line x1="147.9" y1="238.4" x2="147.9" y2="240.4" stroke="#666" stroke-width="0.8"/>
<line x1="165.5" y1="238.4" x2="165.5" y2="240.4" stroke="#666" stroke-width="0.8"/>
<line x1="183" y1="238.4" x2="183" y2="240.4" stroke="#666" stroke-width="0.8"/>
<line x1="200.6" y1="238.4" x2="200.6" y2="240.4" stroke="#666" stroke-width="0.8"/>
<line x1="218.2" y1="238.4" x2="218.2" y2="240.4" stroke="#666" stroke-width="0.8"/>
<line x1="235.8" y1="238.4" x2="235.8" y2="240.4" stroke="#666" stroke-width="0.8"/>
<line x1="253.4" y1="238.4" x2="253.4" y2="240.4" stroke="#666" stroke-width="0.8"/>
<text x="28" y="158.1" font-size="6.1" fill="#2a2a2a" stroke="#2a2a2a" stroke-width="0.15" text-anchor="end" font-weight="normal">10</text>
<text x="28" y="185.6" font-size="6.1" fill="#2a2a2a" stroke="#2a2a2a" stroke-width="0.15" text-anchor="end" font-weight="normal">1</text>
<text x="28" y="213.1" font-size="6.1" fill="#2a2a2a" stroke="#2a2a2a" stroke-width="0.15" text-anchor="end" font-weight="normal">0.1</text>
<text x="28" y="240.6" font-size="6.1" fill="#2a2a2a" stroke="#2a2a2a" stroke-width="0.15" text-anchor="end" font-weight="normal">0.01</text>
<text x="42.4" y="249.2" font-size="6.1" fill="#2a2a2a" stroke="#2a2a2a" stroke-width="0.15" text-anchor="middle" font-weight="bold">La</text>
<text x="60" y="249.2" font-size="6.1" fill="#2a2a2a" stroke="#2a2a2a" stroke-width="0.15" text-anchor="middle" font-weight="bold">Ce</text>
<text x="77.6" y="249.2" font-size="6.1" fill="#2a2a2a" stroke="#2a2a2a" stroke-width="0.15" text-anchor="middle" font-weight="bold">Pr</text>
<text x="95.1" y="249.2" font-size="6.1" fill="#2a2a2a" stroke="#2a2a2a" stroke-width="0.15" text-anchor="middle" font-weight="bold">Nd</text>
<text x="112.7" y="249.2" font-size="6.1" fill="#2a2a2a" stroke="#2a2a2a" stroke-width="0.15" text-anchor="middle" font-weight="bold">Sm</text>
<text x="130.3" y="249.2" font-size="6.1" fill="#2a2a2a" stroke="#2a2a2a" stroke-width="0.15" text-anchor="middle" font-weight="bold">Eu</text>
<text x="147.9" y="249.2" font-size="6.1" fill="#2a2a2a" stroke="#2a2a2a" stroke-width="0.15" text-anchor="middle" font-weight="bold">Gd</text>
<text x="165.5" y="249.2" font-size="6.1" fill="#2a2a2a" stroke="#2a2a2a" stroke-width="0.15" text-anchor="middle" font-weight="bold">Tb</text>
<text x="183" y="249.2" font-size="6.1" fill="#2a2a2a" stroke="#2a2a2a" stroke-width="0.15" text-anchor="middle" font-weight="bold">Dy</text>
<text x="200.6" y="249.2" font-size="6.1" fill="#2a2a2a" stroke="#2a2a2a" stroke-width="0.15" text-anchor="middle" font-weight="bold">Ho</text>
<text x="218.2" y="249.2" font-size="6.1" fill="#2a2a2a" stroke="#2a2a2a" stroke-width="0.15" text-anchor="middle" font-weight="bold">Er</text>
<text x="235.8" y="249.2" font-size="6.1" fill="#2a2a2a" stroke="#2a2a2a" stroke-width="0.15" text-anchor="middle" font-weight="bold">Yb</text>
<text x="253.4" y="249.2" font-size="6.1" fill="#2a2a2a" stroke="#2a2a2a" stroke-width="0.15" text-anchor="middle" font-weight="bold">Lu</text>
<text transform="translate(10.2 191.4) rotate(-90)" font-size="5.9" fill="#2a2a2a" stroke="#2a2a2a" stroke-width="0.15" text-anchor="middle">Rock/Chondrite</text>
<polygon points="38.9,262 110,278.4 200,279.5 252,281 252.6,288.5 254.6,288.5 254.6,322 217,321.1 210,318.4 155,320 147,320.8 129,317 112,323.7 95,328 76,333.5 58.6,337.4 41,343.8 38.9,343.8" fill="#08f808" stroke="none" stroke-width="0.6"/>
<polygon points="41,281.8 110,278.5 200,277.6 240,279.1 252.4,277.9 252.4,288.7 200,290.2 150,293.1 112,294.6 95,298.3 70,303 55,306 41,308.7" fill="#dfdfdf" stroke="#a0a0a0" stroke-width="0.5"/>
<polygon points="54,309 76,304 95,299.8 130,301 150,299.8 210,299 252.4,297.5 252.4,307.7 217,310.8 210,309 150,310.5 130,308.2 112,309 95,307.4 76,308.5 54,310" fill="#f59a3c" stroke="none" stroke-width="0.6"/>
<polyline points="41,293.1 58.6,294.9 76.2,300.2 93.8,305.7 111.4,304.2 129,310.5 146.6,307.4 164.2,306.9 181.8,305 199.4,302.7 217,301.3 234.6,299.8 252.2,298.5" fill="none" stroke="#4a3020" stroke-width="1.2" stroke-linejoin="round"/>
<polyline points="41,293.1 58.6,300.1 76.2,305 93.8,309.4 111.4,312.1 129,303.2 146.6,309.7 164.2,312.9 181.8,305.8 199.4,309.4 217,307.7 234.6,305.8 252.2,303.7" fill="none" stroke="#4a3020" stroke-width="1.2" stroke-linejoin="round"/>
<polyline points="41,308.2 58.6,314.8 76.2,320.8 93.8,324.8 111.4,320.5 129,325.6 146.6,312.1 164.2,319.2 181.8,312.1 199.4,310.5 217,314 234.6,310.8 252.2,307.7" fill="none" stroke="#555" stroke-width="0.6" stroke-linejoin="round"/>
<polyline points="41,312.1 58.6,316.9 76.2,322.9 93.8,327.2 111.4,329.5 129,331.1 146.6,321.6 164.2,322.4 181.8,315.3 199.4,317.7 217,316.4 234.6,314.3 252.2,311.1" fill="none" stroke="#555" stroke-width="0.6" stroke-linejoin="round"/>
<polyline points="41,316.1 58.6,318.9 76.2,322.9 93.8,332.2 111.4,332.7 129,335.9 146.6,324 164.2,324.8 181.8,320.8 199.4,321.3 217,318.7 234.6,314.3 252.2,311.1" fill="none" stroke="#555" stroke-width="0.6" stroke-linejoin="round"/>
<polyline points="41,324.3 58.6,325.6 76.2,329 93.8,332.2 111.4,336.6 129,338.2 146.6,327.2 164.2,327.2 181.8,324.3 199.4,321.3 217,318.7 234.6,314.3 252.2,311.1" fill="none" stroke="#555" stroke-width="0.6" stroke-linejoin="round"/>
<polyline points="41,324.3 58.6,329.5 76.2,334.4 93.8,339 111.4,336.6 129,347.7 146.6,328.7 164.2,327.2 181.8,324.3 199.4,321.3 217,318.7 234.6,314.3 252.2,311.1" fill="none" stroke="#555" stroke-width="0.6" stroke-linejoin="round"/>
<circle cx="41" cy="293.1" r="2" fill="#0e0ee6" stroke="#06064a" stroke-width="0.5"/>
<circle cx="58.6" cy="294.9" r="2" fill="#0e0ee6" stroke="#06064a" stroke-width="0.5"/>
<circle cx="76.2" cy="300.2" r="2" fill="#0e0ee6" stroke="#06064a" stroke-width="0.5"/>
<circle cx="93.8" cy="305.7" r="2" fill="#0e0ee6" stroke="#06064a" stroke-width="0.5"/>
<circle cx="111.4" cy="304.2" r="2" fill="#0e0ee6" stroke="#06064a" stroke-width="0.5"/>
<circle cx="129" cy="310.5" r="2" fill="#0e0ee6" stroke="#06064a" stroke-width="0.5"/>
<circle cx="146.6" cy="307.4" r="2" fill="#0e0ee6" stroke="#06064a" stroke-width="0.5"/>
<circle cx="164.2" cy="306.9" r="2" fill="#0e0ee6" stroke="#06064a" stroke-width="0.5"/>
<circle cx="181.8" cy="305" r="2" fill="#0e0ee6" stroke="#06064a" stroke-width="0.5"/>
<circle cx="199.4" cy="302.7" r="2" fill="#0e0ee6" stroke="#06064a" stroke-width="0.5"/>
<circle cx="217" cy="301.3" r="2" fill="#0e0ee6" stroke="#06064a" stroke-width="0.5"/>
<circle cx="234.6" cy="299.8" r="2" fill="#0e0ee6" stroke="#06064a" stroke-width="0.5"/>
<circle cx="252.2" cy="298.5" r="2" fill="#0e0ee6" stroke="#06064a" stroke-width="0.5"/>
<circle cx="41" cy="293.1" r="2" fill="#0e0ee6" stroke="#06064a" stroke-width="0.5"/>
<circle cx="58.6" cy="300.1" r="2" fill="#0e0ee6" stroke="#06064a" stroke-width="0.5"/>
<circle cx="76.2" cy="305" r="2" fill="#0e0ee6" stroke="#06064a" stroke-width="0.5"/>
<circle cx="93.8" cy="309.4" r="2" fill="#0e0ee6" stroke="#06064a" stroke-width="0.5"/>
<circle cx="111.4" cy="312.1" r="2" fill="#0e0ee6" stroke="#06064a" stroke-width="0.5"/>
<circle cx="129" cy="303.2" r="2" fill="#0e0ee6" stroke="#06064a" stroke-width="0.5"/>
<circle cx="146.6" cy="309.7" r="2" fill="#0e0ee6" stroke="#06064a" stroke-width="0.5"/>
<circle cx="164.2" cy="312.9" r="2" fill="#0e0ee6" stroke="#06064a" stroke-width="0.5"/>
<circle cx="181.8" cy="305.8" r="2" fill="#0e0ee6" stroke="#06064a" stroke-width="0.5"/>
<circle cx="199.4" cy="309.4" r="2" fill="#0e0ee6" stroke="#06064a" stroke-width="0.5"/>
<circle cx="217" cy="307.7" r="2" fill="#0e0ee6" stroke="#06064a" stroke-width="0.5"/>
<circle cx="234.6" cy="305.8" r="2" fill="#0e0ee6" stroke="#06064a" stroke-width="0.5"/>
<circle cx="252.2" cy="303.7" r="2" fill="#0e0ee6" stroke="#06064a" stroke-width="0.5"/>
<circle cx="41" cy="308.2" r="2" fill="#0e0ee6" stroke="#06064a" stroke-width="0.5"/>
<circle cx="58.6" cy="314.8" r="2" fill="#0e0ee6" stroke="#06064a" stroke-width="0.5"/>
<circle cx="76.2" cy="320.8" r="2" fill="#0e0ee6" stroke="#06064a" stroke-width="0.5"/>
<circle cx="93.8" cy="324.8" r="2" fill="#0e0ee6" stroke="#06064a" stroke-width="0.5"/>
<circle cx="111.4" cy="320.5" r="2" fill="#0e0ee6" stroke="#06064a" stroke-width="0.5"/>
<circle cx="129" cy="325.6" r="2" fill="#0e0ee6" stroke="#06064a" stroke-width="0.5"/>
<circle cx="146.6" cy="312.1" r="2" fill="#0e0ee6" stroke="#06064a" stroke-width="0.5"/>
<circle cx="164.2" cy="319.2" r="2" fill="#0e0ee6" stroke="#06064a" stroke-width="0.5"/>
<circle cx="181.8" cy="312.1" r="2" fill="#0e0ee6" stroke="#06064a" stroke-width="0.5"/>
<circle cx="199.4" cy="310.5" r="2" fill="#0e0ee6" stroke="#06064a" stroke-width="0.5"/>
<circle cx="217" cy="314" r="2" fill="#0e0ee6" stroke="#06064a" stroke-width="0.5"/>
<circle cx="234.6" cy="310.8" r="2" fill="#0e0ee6" stroke="#06064a" stroke-width="0.5"/>
<circle cx="252.2" cy="307.7" r="2" fill="#0e0ee6" stroke="#06064a" stroke-width="0.5"/>
<circle cx="41" cy="312.1" r="2" fill="#0e0ee6" stroke="#06064a" stroke-width="0.5"/>
<circle cx="58.6" cy="316.9" r="2" fill="#0e0ee6" stroke="#06064a" stroke-width="0.5"/>
<circle cx="76.2" cy="322.9" r="2" fill="#0e0ee6" stroke="#06064a" stroke-width="0.5"/>
<circle cx="93.8" cy="327.2" r="2" fill="#0e0ee6" stroke="#06064a" stroke-width="0.5"/>
<circle cx="111.4" cy="329.5" r="2" fill="#0e0ee6" stroke="#06064a" stroke-width="0.5"/>
<circle cx="129" cy="331.1" r="2" fill="#0e0ee6" stroke="#06064a" stroke-width="0.5"/>
<circle cx="146.6" cy="321.6" r="2" fill="#0e0ee6" stroke="#06064a" stroke-width="0.5"/>
<circle cx="164.2" cy="322.4" r="2" fill="#0e0ee6" stroke="#06064a" stroke-width="0.5"/>
<circle cx="181.8" cy="315.3" r="2" fill="#0e0ee6" stroke="#06064a" stroke-width="0.5"/>
<circle cx="199.4" cy="317.7" r="2" fill="#0e0ee6" stroke="#06064a" stroke-width="0.5"/>
<circle cx="217" cy="316.4" r="2" fill="#0e0ee6" stroke="#06064a" stroke-width="0.5"/>
<circle cx="234.6" cy="314.3" r="2" fill="#0e0ee6" stroke="#06064a" stroke-width="0.5"/>
<circle cx="252.2" cy="311.1" r="2" fill="#0e0ee6" stroke="#06064a" stroke-width="0.5"/>
<circle cx="41" cy="316.1" r="2" fill="#0e0ee6" stroke="#06064a" stroke-width="0.5"/>
<circle cx="58.6" cy="318.9" r="2" fill="#0e0ee6" stroke="#06064a" stroke-width="0.5"/>
<circle cx="76.2" cy="322.9" r="2" fill="#0e0ee6" stroke="#06064a" stroke-width="0.5"/>
<circle cx="93.8" cy="332.2" r="2" fill="#0e0ee6" stroke="#06064a" stroke-width="0.5"/>
<circle cx="111.4" cy="332.7" r="2" fill="#0e0ee6" stroke="#06064a" stroke-width="0.5"/>
<circle cx="129" cy="335.9" r="2" fill="#0e0ee6" stroke="#06064a" stroke-width="0.5"/>
<circle cx="146.6" cy="324" r="2" fill="#0e0ee6" stroke="#06064a" stroke-width="0.5"/>
<circle cx="164.2" cy="324.8" r="2" fill="#0e0ee6" stroke="#06064a" stroke-width="0.5"/>
<circle cx="181.8" cy="320.8" r="2" fill="#0e0ee6" stroke="#06064a" stroke-width="0.5"/>
<circle cx="199.4" cy="321.3" r="2" fill="#0e0ee6" stroke="#06064a" stroke-width="0.5"/>
<circle cx="217" cy="318.7" r="2" fill="#0e0ee6" stroke="#06064a" stroke-width="0.5"/>
<circle cx="234.6" cy="314.3" r="2" fill="#0e0ee6" stroke="#06064a" stroke-width="0.5"/>
<circle cx="252.2" cy="311.1" r="2" fill="#0e0ee6" stroke="#06064a" stroke-width="0.5"/>
<circle cx="41" cy="324.3" r="2" fill="#0e0ee6" stroke="#06064a" stroke-width="0.5"/>
<circle cx="58.6" cy="325.6" r="2" fill="#0e0ee6" stroke="#06064a" stroke-width="0.5"/>
<circle cx="76.2" cy="329" r="2" fill="#0e0ee6" stroke="#06064a" stroke-width="0.5"/>
<circle cx="93.8" cy="332.2" r="2" fill="#0e0ee6" stroke="#06064a" stroke-width="0.5"/>
<circle cx="111.4" cy="336.6" r="2" fill="#0e0ee6" stroke="#06064a" stroke-width="0.5"/>
<circle cx="129" cy="338.2" r="2" fill="#0e0ee6" stroke="#06064a" stroke-width="0.5"/>
<circle cx="146.6" cy="327.2" r="2" fill="#0e0ee6" stroke="#06064a" stroke-width="0.5"/>
<circle cx="164.2" cy="327.2" r="2" fill="#0e0ee6" stroke="#06064a" stroke-width="0.5"/>
<circle cx="181.8" cy="324.3" r="2" fill="#0e0ee6" stroke="#06064a" stroke-width="0.5"/>
<circle cx="199.4" cy="321.3" r="2" fill="#0e0ee6" stroke="#06064a" stroke-width="0.5"/>
<circle cx="217" cy="318.7" r="2" fill="#0e0ee6" stroke="#06064a" stroke-width="0.5"/>
<circle cx="234.6" cy="314.3" r="2" fill="#0e0ee6" stroke="#06064a" stroke-width="0.5"/>
<circle cx="252.2" cy="311.1" r="2" fill="#0e0ee6" stroke="#06064a" stroke-width="0.5"/>
<circle cx="41" cy="324.3" r="2" fill="#0e0ee6" stroke="#06064a" stroke-width="0.5"/>
<circle cx="58.6" cy="329.5" r="2" fill="#0e0ee6" stroke="#06064a" stroke-width="0.5"/>
<circle cx="76.2" cy="334.4" r="2" fill="#0e0ee6" stroke="#06064a" stroke-width="0.5"/>
<circle cx="93.8" cy="339" r="2" fill="#0e0ee6" stroke="#06064a" stroke-width="0.5"/>
<circle cx="111.4" cy="336.6" r="2" fill="#0e0ee6" stroke="#06064a" stroke-width="0.5"/>
<circle cx="129" cy="347.7" r="2" fill="#0e0ee6" stroke="#06064a" stroke-width="0.5"/>
<circle cx="146.6" cy="328.7" r="2" fill="#0e0ee6" stroke="#06064a" stroke-width="0.5"/>
<circle cx="164.2" cy="327.2" r="2" fill="#0e0ee6" stroke="#06064a" stroke-width="0.5"/>
<circle cx="181.8" cy="324.3" r="2" fill="#0e0ee6" stroke="#06064a" stroke-width="0.5"/>
<circle cx="199.4" cy="321.3" r="2" fill="#0e0ee6" stroke="#06064a" stroke-width="0.5"/>
<circle cx="217" cy="318.7" r="2" fill="#0e0ee6" stroke="#06064a" stroke-width="0.5"/>
<circle cx="234.6" cy="314.3" r="2" fill="#0e0ee6" stroke="#06064a" stroke-width="0.5"/>
<circle cx="252.2" cy="311.1" r="2" fill="#0e0ee6" stroke="#06064a" stroke-width="0.5"/>
<line x1="81.6" y1="272.5" x2="112.7" y2="264" stroke="#333" stroke-width="0.6"/>
<polygon points="112.7,264 110,266.4 109.2,263.3" fill="#333" stroke="none" stroke-width="0.6"/>
<text x="126.4" y="261.4" font-size="5.3" fill="#333" stroke="#333" stroke-width="0.15" text-anchor="start" font-weight="bold" textLength="12" lengthAdjust="spacingAndGlyphs">BABB</text>
<text x="114.8" y="267.6" font-size="5.3" fill="#333" stroke="#333" stroke-width="0.15" text-anchor="start" font-weight="bold" textLength="35.6" lengthAdjust="spacingAndGlyphs">(Bozovic 2013)</text>
<line x1="170" y1="283.5" x2="170" y2="269.5" stroke="#333" stroke-width="0.6"/>
<polygon points="170,269.5 171.6,272.7 168.4,272.7" fill="#333" stroke="none" stroke-width="0.6"/>
<text x="155.8" y="263.9" font-size="5.3" fill="#333" stroke="#333" stroke-width="0.15" text-anchor="start" font-weight="bold" textLength="34.9" lengthAdjust="spacingAndGlyphs">FAB Izu-Bonin</text>
<line x1="191.4" y1="301.3" x2="202.4" y2="272.5" stroke="#333" stroke-width="0.6"/>
<polygon points="202.4,272.5 202.8,276.1 199.8,274.9" fill="#333" stroke="none" stroke-width="0.6"/>
<text x="192.5" y="269.8" font-size="5.3" fill="#333" stroke="#333" stroke-width="0.15" text-anchor="start" font-weight="bold" textLength="31.4" lengthAdjust="spacingAndGlyphs">Boninite IBM</text>
<line x1="186.5" y1="346.1" x2="214.2" y2="346.1" stroke="#555" stroke-width="0.8"/>
<circle cx="200.3" cy="346.1" r="1.9" fill="#0e0ee6" stroke="#06064a" stroke-width="0.5"/>
<text x="218.1" y="348.6" font-size="6.6" fill="#333" stroke="#333" stroke-width="0.15" text-anchor="start" font-weight="normal" textLength="16.9" lengthAdjust="spacingAndGlyphs">Basalts</text>
<circle cx="47.8" cy="264.8" r="5.4" fill="none" stroke="#555" stroke-width="0.75"/>
<text x="47.8" y="268" font-size="11" fill="#111" stroke="#111" stroke-width="0.15" text-anchor="middle" font-weight="normal">c</text>
<path d="M30.7 254 H256.2 V364.1" fill="none" stroke="#8a8a8a" stroke-width="1.2"/>
<line x1="30.7" y1="364.1" x2="37.7" y2="364.1" stroke="#666" stroke-width="1.0"/>
<line x1="33.7" y1="353" x2="37.7" y2="353" stroke="#555" stroke-width="0.8"/>
<line x1="33.7" y1="346.5" x2="37.7" y2="346.5" stroke="#555" stroke-width="0.8"/>
<line x1="33.7" y1="341.9" x2="37.7" y2="341.9" stroke="#555" stroke-width="0.8"/>
<line x1="33.7" y1="338.4" x2="37.7" y2="338.4" stroke="#555" stroke-width="0.8"/>
<line x1="33.7" y1="335.5" x2="37.7" y2="335.5" stroke="#555" stroke-width="0.8"/>
<line x1="33.7" y1="333" x2="37.7" y2="333" stroke="#555" stroke-width="0.8"/>
<line x1="33.7" y1="330.9" x2="37.7" y2="330.9" stroke="#555" stroke-width="0.8"/>
<line x1="33.7" y1="329" x2="37.7" y2="329" stroke="#555" stroke-width="0.8"/>
<line x1="30.7" y1="327.3" x2="37.7" y2="327.3" stroke="#666" stroke-width="1.0"/>
<line x1="33.7" y1="316.2" x2="37.7" y2="316.2" stroke="#555" stroke-width="0.8"/>
<line x1="33.7" y1="309.7" x2="37.7" y2="309.7" stroke="#555" stroke-width="0.8"/>
<line x1="33.7" y1="305.1" x2="37.7" y2="305.1" stroke="#555" stroke-width="0.8"/>
<line x1="33.7" y1="301.6" x2="37.7" y2="301.6" stroke="#555" stroke-width="0.8"/>
<line x1="33.7" y1="298.7" x2="37.7" y2="298.7" stroke="#555" stroke-width="0.8"/>
<line x1="33.7" y1="296.2" x2="37.7" y2="296.2" stroke="#555" stroke-width="0.8"/>
<line x1="33.7" y1="294.1" x2="37.7" y2="294.1" stroke="#555" stroke-width="0.8"/>
<line x1="33.7" y1="292.2" x2="37.7" y2="292.2" stroke="#555" stroke-width="0.8"/>
<line x1="30.7" y1="290.5" x2="37.7" y2="290.5" stroke="#666" stroke-width="1.0"/>
<line x1="33.7" y1="279.4" x2="37.7" y2="279.4" stroke="#555" stroke-width="0.8"/>
<line x1="33.7" y1="272.9" x2="37.7" y2="272.9" stroke="#555" stroke-width="0.8"/>
<line x1="33.7" y1="268.3" x2="37.7" y2="268.3" stroke="#555" stroke-width="0.8"/>
<line x1="33.7" y1="264.8" x2="37.7" y2="264.8" stroke="#555" stroke-width="0.8"/>
<line x1="33.7" y1="261.9" x2="37.7" y2="261.9" stroke="#555" stroke-width="0.8"/>
<line x1="33.7" y1="259.4" x2="37.7" y2="259.4" stroke="#555" stroke-width="0.8"/>
<line x1="33.7" y1="257.3" x2="37.7" y2="257.3" stroke="#555" stroke-width="0.8"/>
<line x1="33.7" y1="255.4" x2="37.7" y2="255.4" stroke="#555" stroke-width="0.8"/>
<path d="M37.7 254 V364.1 H256.8" fill="none" stroke="#555" stroke-width="1.3"/>
<line x1="30.7" y1="364.1" x2="37.7" y2="364.1" stroke="#555" stroke-width="1.3"/>
<line x1="41" y1="364.1" x2="41" y2="366.1" stroke="#666" stroke-width="0.8"/>
<line x1="58.6" y1="364.1" x2="58.6" y2="366.1" stroke="#666" stroke-width="0.8"/>
<line x1="76.2" y1="364.1" x2="76.2" y2="366.1" stroke="#666" stroke-width="0.8"/>
<line x1="93.8" y1="364.1" x2="93.8" y2="366.1" stroke="#666" stroke-width="0.8"/>
<line x1="111.4" y1="364.1" x2="111.4" y2="366.1" stroke="#666" stroke-width="0.8"/>
<line x1="129" y1="364.1" x2="129" y2="366.1" stroke="#666" stroke-width="0.8"/>
<line x1="146.6" y1="364.1" x2="146.6" y2="366.1" stroke="#666" stroke-width="0.8"/>
<line x1="164.2" y1="364.1" x2="164.2" y2="366.1" stroke="#666" stroke-width="0.8"/>
<line x1="181.8" y1="364.1" x2="181.8" y2="366.1" stroke="#666" stroke-width="0.8"/>
<line x1="199.4" y1="364.1" x2="199.4" y2="366.1" stroke="#666" stroke-width="0.8"/>
<line x1="217" y1="364.1" x2="217" y2="366.1" stroke="#666" stroke-width="0.8"/>
<line x1="234.6" y1="364.1" x2="234.6" y2="366.1" stroke="#666" stroke-width="0.8"/>
<line x1="252.2" y1="364.1" x2="252.2" y2="366.1" stroke="#666" stroke-width="0.8"/>
<text x="27.5" y="255.9" font-size="6.1" fill="#2a2a2a" stroke="#2a2a2a" stroke-width="0.15" text-anchor="end" font-weight="normal">100</text>
<text x="27.5" y="292.7" font-size="6.1" fill="#2a2a2a" stroke="#2a2a2a" stroke-width="0.15" text-anchor="end" font-weight="normal">10</text>
<text x="27.5" y="329.5" font-size="6.1" fill="#2a2a2a" stroke="#2a2a2a" stroke-width="0.15" text-anchor="end" font-weight="normal">1</text>
<text x="27.5" y="366.3" font-size="6.1" fill="#2a2a2a" stroke="#2a2a2a" stroke-width="0.15" text-anchor="end" font-weight="normal">0.1</text>
<text x="41" y="374.6" font-size="6.1" fill="#2a2a2a" stroke="#2a2a2a" stroke-width="0.15" text-anchor="middle" font-weight="bold">La</text>
<text x="58.6" y="374.6" font-size="6.1" fill="#2a2a2a" stroke="#2a2a2a" stroke-width="0.15" text-anchor="middle" font-weight="bold">Ce</text>
<text x="76.2" y="374.6" font-size="6.1" fill="#2a2a2a" stroke="#2a2a2a" stroke-width="0.15" text-anchor="middle" font-weight="bold">Pr</text>
<text x="93.8" y="374.6" font-size="6.1" fill="#2a2a2a" stroke="#2a2a2a" stroke-width="0.15" text-anchor="middle" font-weight="bold">Nd</text>
<text x="111.4" y="374.6" font-size="6.1" fill="#2a2a2a" stroke="#2a2a2a" stroke-width="0.15" text-anchor="middle" font-weight="bold">Sm</text>
<text x="129" y="374.6" font-size="6.1" fill="#2a2a2a" stroke="#2a2a2a" stroke-width="0.15" text-anchor="middle" font-weight="bold">Eu</text>
<text x="146.6" y="374.6" font-size="6.1" fill="#2a2a2a" stroke="#2a2a2a" stroke-width="0.15" text-anchor="middle" font-weight="bold">Gd</text>
<text x="164.2" y="374.6" font-size="6.1" fill="#2a2a2a" stroke="#2a2a2a" stroke-width="0.15" text-anchor="middle" font-weight="bold">Tb</text>
<text x="181.8" y="374.6" font-size="6.1" fill="#2a2a2a" stroke="#2a2a2a" stroke-width="0.15" text-anchor="middle" font-weight="bold">Dy</text>
<text x="199.4" y="374.6" font-size="6.1" fill="#2a2a2a" stroke="#2a2a2a" stroke-width="0.15" text-anchor="middle" font-weight="bold">Ho</text>
<text x="217" y="374.6" font-size="6.1" fill="#2a2a2a" stroke="#2a2a2a" stroke-width="0.15" text-anchor="middle" font-weight="bold">Er</text>
<text x="234.6" y="374.6" font-size="6.1" fill="#2a2a2a" stroke="#2a2a2a" stroke-width="0.15" text-anchor="middle" font-weight="bold">Yb</text>
<text x="252.2" y="374.6" font-size="6.1" fill="#2a2a2a" stroke="#2a2a2a" stroke-width="0.15" text-anchor="middle" font-weight="bold">Lu</text>
<text transform="translate(12.7 308.7) rotate(-90)" font-size="6.1" fill="#2a2a2a" stroke="#2a2a2a" stroke-width="0.15" text-anchor="middle">Rock/Chondrite</text>
<polygon points="310.6,53.3 322,58 330.5,46 339,58 349.5,43 358,57 368,56 377.3,57 381,50 386.5,26 392,50 395.5,59 405,39 411,61 424,61 433,62 442.6,61 452,59.5 461.3,60 470.6,61 480,61 489.2,60 498.5,60 507.8,59 517.1,58 526.5,56.5 535.8,60 535.8,84 526.5,71 517.1,73 507.8,78 498.5,83 489.2,77 480,80 470.6,78 461.3,82 452,78 442.6,80 433.3,90 423.3,95.4 416,88 408.7,90.6 402.6,85.7 396.5,95.4 391.6,93 384.3,91.8 377,105.2 369.7,90.6 363.6,87 358,83.6 349.5,78.5 343.8,80 339,83.6 334.3,86.5 327.7,84.6 322,78 311.5,75" fill="#cfcff5" stroke="none" stroke-width="0.6"/>
<polyline points="310.6,53.3 322,58 330.5,46 339,58 349.5,43 358,57 368,56 377.3,57 381,50 386.5,26 392,50 395.5,59 405,39 411,61 424,61 433,62 442.6,61 452,59.5 461.3,60 470.6,61 480,61 489.2,60 498.5,60 507.8,59 517.1,58 526.5,56.5 535.8,60" fill="none" stroke="#9a9ad0" stroke-width="0.5" stroke-linejoin="round" stroke-dasharray="0.8,0.8"/>
<polyline points="535.8,84 526.5,71 517.1,73 507.8,78 498.5,83 489.2,77 480,80 470.6,78 461.3,82 452,78 442.6,80 433.3,90 423.3,95.4 416,88 408.7,90.6 402.6,85.7 396.5,95.4 391.6,93 384.3,91.8 377,105.2 369.7,90.6 363.6,87 358,83.6 349.5,78.5 343.8,80 339,83.6 334.3,86.5 327.7,84.6 322,78 311.5,75" fill="none" stroke="#9a9ad0" stroke-width="0.5" stroke-linejoin="round" stroke-dasharray="0.8,0.8"/>
<polyline points="311.5,71.5 321.4,64 330.7,63.4 340,62.2 349.4,60.6 358.7,58 368,56.3 377.3,53.9 386.7,51.7 396,49.5 405.4,46.6 414.7,46.8 424.1,46.8 433.3,46.8 442.6,46.5 452,45.5 461.3,45.3 470.6,45 480,44.7 489.2,44.5 498.5,44.2 507.8,43.6 517.1,43.4 526.5,43.8 535.8,44" fill="none" stroke="#e8323a" stroke-width="1.1" stroke-linejoin="round"/>
<polyline points="312.1,56.6 321.4,59.3 330.7,45.5 340.1,51.4 349.4,42.8 358.7,53.9 368,56.6 377.3,58.5 386.7,21.3 396,60.3 405.3,51.5 414.6,61.6 423.9,63.5 433.3,64.4 442.6,63.1 451.9,61.3 461.2,62.6 470.5,63.1 479.9,63.5 489.2,62.6 498.5,62.6 507.8,60.7 517.1,59.8 526.5,58.9 535.8,62" fill="none" stroke="#6a6a8a" stroke-width="0.55" stroke-linejoin="round"/>
<polyline points="312.1,60.9 321.4,65 330.7,49.8 340.1,61.8 349.4,45.5 358.7,69.7 368,61 377.3,64.8 386.7,31.6 396,63.5 405.3,56.5 414.6,64.8 423.9,69 433.3,71.8 442.6,65.3 451.9,63.5 461.2,66.3 470.5,66.8 479.9,67.2 489.2,65.7 498.5,65 507.8,63.1 517.1,64.4 526.5,60.7 535.8,64.4" fill="none" stroke="#6a6a8a" stroke-width="0.55" stroke-linejoin="round"/>
<polyline points="312.1,64.5 321.4,69.3 330.7,58.2 340.1,68.2 349.4,49.2 358.7,73.2 368,65.8 377.3,69.6 386.7,34.3 396,72.7 405.3,59.3 414.6,75.6 423.9,72.7 433.3,74.6 442.6,79.2 451.9,76.4 461.2,76.4 470.5,80.5 479.9,70.9 489.2,69.4 498.5,73.7 507.8,70 517.1,69 526.5,63.5 535.8,72.7" fill="none" stroke="#6a6a8a" stroke-width="0.55" stroke-linejoin="round"/>
<polyline points="312.1,68.5 321.4,69.3 330.7,60.3 340.1,72.4 349.4,64 358.7,73.2 368,74.8 377.3,77.9 386.7,34.3 396,83.2 405.3,59.3 414.6,83.5 423.9,72.7 433.3,74.6 442.6,87.5 451.9,78.6 461.2,85.3 470.5,80.5 479.9,72.7 489.2,77.9 498.5,79.2 507.8,74.6 517.1,69 526.5,63.5 535.8,75.5" fill="none" stroke="#6a6a8a" stroke-width="0.55" stroke-linejoin="round"/>
<polyline points="312.1,70 321.4,71.6 330.7,63.4 340.1,80.3 349.4,68.5 358.7,76.7 368,78.7 377.3,83.5 386.7,37.2 396,91.4 405.3,62.5 414.6,87.4 423.9,75.5 433.3,82 442.6,91.2 451.9,85.3 461.2,98.2 470.5,85.7 479.9,75.5 489.2,81 498.5,87.9 507.8,77.9 517.1,70.9 526.5,68.1 535.8,77.9" fill="none" stroke="#6a6a8a" stroke-width="0.55" stroke-linejoin="round"/>
<polyline points="312.1,73.2 321.4,74 330.7,68.8 340.1,94.1 349.4,74 358.7,80.3 368,85.9 377.3,91.4 386.7,40 396,100.6 405.3,65.6 414.6,91.7 423.9,77.9 433.3,89.7 442.6,111.3 451.9,92.1 461.2,111.3 470.5,89.4 479.9,78.3 489.2,83.8 498.5,91.2 507.8,80.5 517.1,73.7 526.5,70.9 535.8,82.9" fill="none" stroke="#6a6a8a" stroke-width="0.55" stroke-linejoin="round"/>
<polyline points="312.1,56.6 321.4,65 330.7,63.4 340.1,51.4 349.4,42.8 358.7,53.9 368,56.6 377.3,58.5 386.7,31.6 396,60.3 405.3,51.5 414.6,61.6 423.9,63.5 433.3,64.4 442.6,63.1 451.9,61.3 461.2,62.6 470.5,63.1 479.9,63.5 489.2,62.6 498.5,62.6 507.8,60.7 517.1,59.8 526.5,58.9 535.8,62" fill="none" stroke="#8a8a70" stroke-width="0.55" stroke-linejoin="round"/>
<line x1="377.3" y1="69.6" x2="386.7" y2="21.3" stroke="#444" stroke-width="0.7"/>
<line x1="386.7" y1="21.3" x2="396" y2="72.7" stroke="#444" stroke-width="0.7"/>
<line x1="377.3" y1="77.9" x2="386.7" y2="34.3" stroke="#444" stroke-width="0.7"/>
<line x1="386.7" y1="37.2" x2="396" y2="80.6" stroke="#444" stroke-width="0.7"/>
<line x1="368" y1="74.8" x2="386.7" y2="37.2" stroke="#444" stroke-width="0.7"/>
<line x1="386.7" y1="40" x2="396" y2="91.4" stroke="#444" stroke-width="0.7"/>
<circle cx="312.1" cy="60.9" r="1.9" fill="#14d414" stroke="#2a4a10" stroke-width="0.4"/>
<circle cx="312.1" cy="68.5" r="1.9" fill="#14d414" stroke="#2a4a10" stroke-width="0.4"/>
<circle cx="312.1" cy="70" r="1.9" fill="#14d414" stroke="#2a4a10" stroke-width="0.4"/>
<circle cx="312.1" cy="56.6" r="1.9" fill="#f6ea10" stroke="#6a6010" stroke-width="0.4"/>
<circle cx="312.1" cy="64.5" r="1.9" fill="#f6ea10" stroke="#6a6010" stroke-width="0.4"/>
<circle cx="312.1" cy="73.2" r="1.9" fill="#f6ea10" stroke="#6a6010" stroke-width="0.4"/>
<circle cx="321.4" cy="59.3" r="1.9" fill="#14d414" stroke="#2a4a10" stroke-width="0.4"/>
<circle cx="321.4" cy="71.6" r="1.9" fill="#14d414" stroke="#2a4a10" stroke-width="0.4"/>
<circle cx="321.4" cy="74" r="1.9" fill="#14d414" stroke="#2a4a10" stroke-width="0.4"/>
<circle cx="321.4" cy="65" r="1.9" fill="#f6ea10" stroke="#6a6010" stroke-width="0.4"/>
<circle cx="321.4" cy="69.3" r="1.9" fill="#f6ea10" stroke="#6a6010" stroke-width="0.4"/>
<circle cx="330.7" cy="45.5" r="1.9" fill="#14d414" stroke="#2a4a10" stroke-width="0.4"/>
<circle cx="330.7" cy="49.8" r="1.9" fill="#14d414" stroke="#2a4a10" stroke-width="0.4"/>
<circle cx="330.7" cy="58.2" r="1.9" fill="#14d414" stroke="#2a4a10" stroke-width="0.4"/>
<circle cx="330.7" cy="60.3" r="1.9" fill="#14d414" stroke="#2a4a10" stroke-width="0.4"/>
<circle cx="330.7" cy="68.8" r="1.9" fill="#14d414" stroke="#2a4a10" stroke-width="0.4"/>
<circle cx="330.7" cy="63.4" r="1.9" fill="#f6ea10" stroke="#6a6010" stroke-width="0.4"/>
<circle cx="340.1" cy="61.8" r="1.9" fill="#14d414" stroke="#2a4a10" stroke-width="0.4"/>
<circle cx="340.1" cy="68.2" r="1.9" fill="#14d414" stroke="#2a4a10" stroke-width="0.4"/>
<circle cx="340.1" cy="72.4" r="1.9" fill="#14d414" stroke="#2a4a10" stroke-width="0.4"/>
<circle cx="340.1" cy="80.3" r="1.9" fill="#14d414" stroke="#2a4a10" stroke-width="0.4"/>
<circle cx="340.1" cy="51.4" r="1.9" fill="#f6ea10" stroke="#6a6010" stroke-width="0.4"/>
<circle cx="340.1" cy="64.5" r="1.9" fill="#f6ea10" stroke="#6a6010" stroke-width="0.4"/>
<circle cx="340.1" cy="78" r="1.9" fill="#f6ea10" stroke="#6a6010" stroke-width="0.4"/>
<circle cx="340.1" cy="94.1" r="1.9" fill="#f6ea10" stroke="#6a6010" stroke-width="0.4"/>
<circle cx="349.4" cy="45.5" r="1.9" fill="#14d414" stroke="#2a4a10" stroke-width="0.4"/>
<circle cx="349.4" cy="49.2" r="1.9" fill="#14d414" stroke="#2a4a10" stroke-width="0.4"/>
<circle cx="349.4" cy="64" r="1.9" fill="#14d414" stroke="#2a4a10" stroke-width="0.4"/>
<circle cx="349.4" cy="68.5" r="1.9" fill="#14d414" stroke="#2a4a10" stroke-width="0.4"/>
<circle cx="349.4" cy="74" r="1.9" fill="#14d414" stroke="#2a4a10" stroke-width="0.4"/>
<circle cx="349.4" cy="42.8" r="1.9" fill="#f6ea10" stroke="#6a6010" stroke-width="0.4"/>
<circle cx="358.7" cy="69.7" r="1.9" fill="#14d414" stroke="#2a4a10" stroke-width="0.4"/>
<circle cx="358.7" cy="76.7" r="1.9" fill="#14d414" stroke="#2a4a10" stroke-width="0.4"/>
<circle cx="358.7" cy="53.9" r="1.9" fill="#f6ea10" stroke="#6a6010" stroke-width="0.4"/>
<circle cx="358.7" cy="73.2" r="1.9" fill="#f6ea10" stroke="#6a6010" stroke-width="0.4"/>
<circle cx="358.7" cy="80.3" r="1.9" fill="#f6ea10" stroke="#6a6010" stroke-width="0.4"/>
<circle cx="368" cy="65.8" r="1.9" fill="#14d414" stroke="#2a4a10" stroke-width="0.4"/>
<circle cx="368" cy="69.2" r="1.9" fill="#14d414" stroke="#2a4a10" stroke-width="0.4"/>
<circle cx="368" cy="74.8" r="1.9" fill="#14d414" stroke="#2a4a10" stroke-width="0.4"/>
<circle cx="368" cy="78.7" r="1.9" fill="#14d414" stroke="#2a4a10" stroke-width="0.4"/>
<circle cx="368" cy="85.9" r="1.9" fill="#14d414" stroke="#2a4a10" stroke-width="0.4"/>
<circle cx="368" cy="56.6" r="1.9" fill="#f6ea10" stroke="#6a6010" stroke-width="0.4"/>
<circle cx="368" cy="61" r="1.9" fill="#f6ea10" stroke="#6a6010" stroke-width="0.4"/>
<circle cx="377.3" cy="69.6" r="1.9" fill="#14d414" stroke="#2a4a10" stroke-width="0.4"/>
<circle cx="377.3" cy="72.4" r="1.9" fill="#14d414" stroke="#2a4a10" stroke-width="0.4"/>
<circle cx="377.3" cy="77.9" r="1.9" fill="#14d414" stroke="#2a4a10" stroke-width="0.4"/>
<circle cx="377.3" cy="83.5" r="1.9" fill="#14d414" stroke="#2a4a10" stroke-width="0.4"/>
<circle cx="377.3" cy="91.4" r="1.9" fill="#14d414" stroke="#2a4a10" stroke-width="0.4"/>
<circle cx="377.3" cy="58.5" r="1.9" fill="#f6ea10" stroke="#6a6010" stroke-width="0.4"/>
<circle cx="377.3" cy="64.8" r="1.9" fill="#f6ea10" stroke="#6a6010" stroke-width="0.4"/>
<circle cx="386.7" cy="21.3" r="1.9" fill="#14d414" stroke="#2a4a10" stroke-width="0.4"/>
<circle cx="386.7" cy="34.3" r="1.9" fill="#14d414" stroke="#2a4a10" stroke-width="0.4"/>
<circle cx="386.7" cy="37.2" r="1.9" fill="#14d414" stroke="#2a4a10" stroke-width="0.4"/>
<circle cx="386.7" cy="31.6" r="1.9" fill="#f6ea10" stroke="#6a6010" stroke-width="0.4"/>
<circle cx="386.7" cy="40" r="1.9" fill="#f6ea10" stroke="#6a6010" stroke-width="0.4"/>
<circle cx="396" cy="72.7" r="1.9" fill="#14d414" stroke="#2a4a10" stroke-width="0.4"/>
<circle cx="396" cy="80.6" r="1.9" fill="#14d414" stroke="#2a4a10" stroke-width="0.4"/>
<circle cx="396" cy="91.4" r="1.9" fill="#14d414" stroke="#2a4a10" stroke-width="0.4"/>
<circle cx="396" cy="100.6" r="1.9" fill="#14d414" stroke="#2a4a10" stroke-width="0.4"/>
<circle cx="396" cy="60.3" r="1.9" fill="#f6ea10" stroke="#6a6010" stroke-width="0.4"/>
<circle cx="396" cy="63.5" r="1.9" fill="#f6ea10" stroke="#6a6010" stroke-width="0.4"/>
<circle cx="396" cy="83.2" r="1.9" fill="#f6ea10" stroke="#6a6010" stroke-width="0.4"/>
<circle cx="405.3" cy="59.3" r="1.9" fill="#14d414" stroke="#2a4a10" stroke-width="0.4"/>
<circle cx="405.3" cy="62.5" r="1.9" fill="#14d414" stroke="#2a4a10" stroke-width="0.4"/>
<circle cx="405.3" cy="65.6" r="1.9" fill="#14d414" stroke="#2a4a10" stroke-width="0.4"/>
<circle cx="405.3" cy="51.5" r="1.9" fill="#f6ea10" stroke="#6a6010" stroke-width="0.4"/>
<circle cx="405.3" cy="56.5" r="1.9" fill="#f6ea10" stroke="#6a6010" stroke-width="0.4"/>
<circle cx="414.6" cy="75.6" r="1.9" fill="#14d414" stroke="#2a4a10" stroke-width="0.4"/>
<circle cx="414.6" cy="83.5" r="1.9" fill="#14d414" stroke="#2a4a10" stroke-width="0.4"/>
<circle cx="414.6" cy="91.7" r="1.9" fill="#14d414" stroke="#2a4a10" stroke-width="0.4"/>
<circle cx="414.6" cy="61.6" r="1.9" fill="#f6ea10" stroke="#6a6010" stroke-width="0.4"/>
<circle cx="414.6" cy="64.8" r="1.9" fill="#f6ea10" stroke="#6a6010" stroke-width="0.4"/>
<circle cx="414.6" cy="87.4" r="1.9" fill="#f6ea10" stroke="#6a6010" stroke-width="0.4"/>
<circle cx="423.9" cy="72.7" r="1.9" fill="#14d414" stroke="#2a4a10" stroke-width="0.4"/>
<circle cx="423.9" cy="75.5" r="1.9" fill="#14d414" stroke="#2a4a10" stroke-width="0.4"/>
<circle cx="423.9" cy="77.9" r="1.9" fill="#14d414" stroke="#2a4a10" stroke-width="0.4"/>
<circle cx="423.9" cy="63.5" r="1.9" fill="#f6ea10" stroke="#6a6010" stroke-width="0.4"/>
<circle cx="423.9" cy="69" r="1.9" fill="#f6ea10" stroke="#6a6010" stroke-width="0.4"/>
<circle cx="433.3" cy="71.8" r="1.9" fill="#14d414" stroke="#2a4a10" stroke-width="0.4"/>
<circle cx="433.3" cy="74.6" r="1.9" fill="#14d414" stroke="#2a4a10" stroke-width="0.4"/>
<circle cx="433.3" cy="82" r="1.9" fill="#14d414" stroke="#2a4a10" stroke-width="0.4"/>
<circle cx="433.3" cy="89.7" r="1.9" fill="#14d414" stroke="#2a4a10" stroke-width="0.4"/>
<circle cx="433.3" cy="64.4" r="1.9" fill="#f6ea10" stroke="#6a6010" stroke-width="0.4"/>
<circle cx="442.6" cy="79.2" r="1.9" fill="#14d414" stroke="#2a4a10" stroke-width="0.4"/>
<circle cx="442.6" cy="87.5" r="1.9" fill="#14d414" stroke="#2a4a10" stroke-width="0.4"/>
<circle cx="442.6" cy="91.2" r="1.9" fill="#14d414" stroke="#2a4a10" stroke-width="0.4"/>
<circle cx="442.6" cy="111.3" r="1.9" fill="#14d414" stroke="#2a4a10" stroke-width="0.4"/>
<circle cx="442.6" cy="63.1" r="1.9" fill="#f6ea10" stroke="#6a6010" stroke-width="0.4"/>
<circle cx="442.6" cy="65.3" r="1.9" fill="#f6ea10" stroke="#6a6010" stroke-width="0.4"/>
<circle cx="451.9" cy="70.5" r="1.9" fill="#14d414" stroke="#2a4a10" stroke-width="0.4"/>
<circle cx="451.9" cy="76.4" r="1.9" fill="#14d414" stroke="#2a4a10" stroke-width="0.4"/>
<circle cx="451.9" cy="78.6" r="1.9" fill="#14d414" stroke="#2a4a10" stroke-width="0.4"/>
<circle cx="451.9" cy="81" r="1.9" fill="#14d414" stroke="#2a4a10" stroke-width="0.4"/>
<circle cx="451.9" cy="92.1" r="1.9" fill="#14d414" stroke="#2a4a10" stroke-width="0.4"/>
<circle cx="451.9" cy="61.3" r="1.9" fill="#f6ea10" stroke="#6a6010" stroke-width="0.4"/>
<circle cx="451.9" cy="63.5" r="1.9" fill="#f6ea10" stroke="#6a6010" stroke-width="0.4"/>
<circle cx="451.9" cy="85.3" r="1.9" fill="#f6ea10" stroke="#6a6010" stroke-width="0.4"/>
<circle cx="461.2" cy="76.4" r="1.9" fill="#14d414" stroke="#2a4a10" stroke-width="0.4"/>
<circle cx="461.2" cy="79.2" r="1.9" fill="#14d414" stroke="#2a4a10" stroke-width="0.4"/>
<circle cx="461.2" cy="85.3" r="1.9" fill="#14d414" stroke="#2a4a10" stroke-width="0.4"/>
<circle cx="461.2" cy="111.3" r="1.9" fill="#14d414" stroke="#2a4a10" stroke-width="0.4"/>
<circle cx="461.2" cy="62.6" r="1.9" fill="#f6ea10" stroke="#6a6010" stroke-width="0.4"/>
<circle cx="461.2" cy="66.3" r="1.9" fill="#f6ea10" stroke="#6a6010" stroke-width="0.4"/>
<circle cx="461.2" cy="98.2" r="1.9" fill="#f6ea10" stroke="#6a6010" stroke-width="0.4"/>
<circle cx="470.5" cy="80.5" r="1.9" fill="#14d414" stroke="#2a4a10" stroke-width="0.4"/>
<circle cx="470.5" cy="85.7" r="1.9" fill="#14d414" stroke="#2a4a10" stroke-width="0.4"/>
<circle cx="470.5" cy="89.4" r="1.9" fill="#14d414" stroke="#2a4a10" stroke-width="0.4"/>
<circle cx="470.5" cy="63.1" r="1.9" fill="#f6ea10" stroke="#6a6010" stroke-width="0.4"/>
<circle cx="470.5" cy="66.8" r="1.9" fill="#f6ea10" stroke="#6a6010" stroke-width="0.4"/>
<circle cx="479.9" cy="70.9" r="1.9" fill="#14d414" stroke="#2a4a10" stroke-width="0.4"/>
<circle cx="479.9" cy="72.7" r="1.9" fill="#14d414" stroke="#2a4a10" stroke-width="0.4"/>
<circle cx="479.9" cy="75.5" r="1.9" fill="#14d414" stroke="#2a4a10" stroke-width="0.4"/>
<circle cx="479.9" cy="78.3" r="1.9" fill="#14d414" stroke="#2a4a10" stroke-width="0.4"/>
<circle cx="479.9" cy="63.5" r="1.9" fill="#f6ea10" stroke="#6a6010" stroke-width="0.4"/>
<circle cx="479.9" cy="67.2" r="1.9" fill="#f6ea10" stroke="#6a6010" stroke-width="0.4"/>
<circle cx="489.2" cy="69.4" r="1.9" fill="#14d414" stroke="#2a4a10" stroke-width="0.4"/>
<circle cx="489.2" cy="75.5" r="1.9" fill="#14d414" stroke="#2a4a10" stroke-width="0.4"/>
<circle cx="489.2" cy="77.9" r="1.9" fill="#14d414" stroke="#2a4a10" stroke-width="0.4"/>
<circle cx="489.2" cy="83.8" r="1.9" fill="#14d414" stroke="#2a4a10" stroke-width="0.4"/>
<circle cx="489.2" cy="62.6" r="1.9" fill="#f6ea10" stroke="#6a6010" stroke-width="0.4"/>
<circle cx="489.2" cy="65.7" r="1.9" fill="#f6ea10" stroke="#6a6010" stroke-width="0.4"/>
<circle cx="489.2" cy="81" r="1.9" fill="#f6ea10" stroke="#6a6010" stroke-width="0.4"/>
<circle cx="498.5" cy="73.7" r="1.9" fill="#14d414" stroke="#2a4a10" stroke-width="0.4"/>
<circle cx="498.5" cy="79.2" r="1.9" fill="#14d414" stroke="#2a4a10" stroke-width="0.4"/>
<circle cx="498.5" cy="87.9" r="1.9" fill="#14d414" stroke="#2a4a10" stroke-width="0.4"/>
<circle cx="498.5" cy="62.6" r="1.9" fill="#f6ea10" stroke="#6a6010" stroke-width="0.4"/>
<circle cx="498.5" cy="65" r="1.9" fill="#f6ea10" stroke="#6a6010" stroke-width="0.4"/>
<circle cx="498.5" cy="91.2" r="1.9" fill="#f6ea10" stroke="#6a6010" stroke-width="0.4"/>
<circle cx="507.8" cy="70" r="1.9" fill="#14d414" stroke="#2a4a10" stroke-width="0.4"/>
<circle cx="507.8" cy="74.6" r="1.9" fill="#14d414" stroke="#2a4a10" stroke-width="0.4"/>
<circle cx="507.8" cy="77.9" r="1.9" fill="#14d414" stroke="#2a4a10" stroke-width="0.4"/>
<circle cx="507.8" cy="60.7" r="1.9" fill="#f6ea10" stroke="#6a6010" stroke-width="0.4"/>
<circle cx="507.8" cy="63.1" r="1.9" fill="#f6ea10" stroke="#6a6010" stroke-width="0.4"/>
<circle cx="507.8" cy="80.5" r="1.9" fill="#f6ea10" stroke="#6a6010" stroke-width="0.4"/>
<circle cx="517.1" cy="64.4" r="1.9" fill="#14d414" stroke="#2a4a10" stroke-width="0.4"/>
<circle cx="517.1" cy="69" r="1.9" fill="#14d414" stroke="#2a4a10" stroke-width="0.4"/>
<circle cx="517.1" cy="70.9" r="1.9" fill="#14d414" stroke="#2a4a10" stroke-width="0.4"/>
<circle cx="517.1" cy="59.8" r="1.9" fill="#f6ea10" stroke="#6a6010" stroke-width="0.4"/>
<circle cx="517.1" cy="73.7" r="1.9" fill="#f6ea10" stroke="#6a6010" stroke-width="0.4"/>
<circle cx="526.5" cy="63.5" r="1.9" fill="#14d414" stroke="#2a4a10" stroke-width="0.4"/>
<circle cx="526.5" cy="68.1" r="1.9" fill="#14d414" stroke="#2a4a10" stroke-width="0.4"/>
<circle cx="526.5" cy="70.9" r="1.9" fill="#14d414" stroke="#2a4a10" stroke-width="0.4"/>
<circle cx="526.5" cy="58.9" r="1.9" fill="#f6ea10" stroke="#6a6010" stroke-width="0.4"/>
<circle cx="526.5" cy="60.7" r="1.9" fill="#f6ea10" stroke="#6a6010" stroke-width="0.4"/>
<circle cx="535.8" cy="72.7" r="1.9" fill="#14d414" stroke="#2a4a10" stroke-width="0.4"/>
<circle cx="535.8" cy="75.5" r="1.9" fill="#14d414" stroke="#2a4a10" stroke-width="0.4"/>
<circle cx="535.8" cy="77.9" r="1.9" fill="#14d414" stroke="#2a4a10" stroke-width="0.4"/>
<circle cx="535.8" cy="82.9" r="1.9" fill="#14d414" stroke="#2a4a10" stroke-width="0.4"/>
<circle cx="535.8" cy="62" r="1.9" fill="#f6ea10" stroke="#6a6010" stroke-width="0.4"/>
<circle cx="535.8" cy="64.4" r="1.9" fill="#f6ea10" stroke="#6a6010" stroke-width="0.4"/>
<text x="430.3" y="38.3" font-size="6.1" fill="#e8323a" stroke="#e8323a" stroke-width="0.04" text-anchor="start" font-weight="normal" textLength="41.6" lengthAdjust="spacingAndGlyphs">Depleted mantle</text>
<text x="312.9" y="103" font-size="4.7" fill="#555" stroke="#555" stroke-width="0.04" text-anchor="start" font-weight="normal">Depleted mantle peridotites</text>
<text x="312.9" y="107.6" font-size="4.7" fill="#555" stroke="#555" stroke-width="0.04" text-anchor="start" font-weight="normal">(Hanghoj 2010)</text>
<line x1="367.9" y1="94.8" x2="360.9" y2="97.4" stroke="#333" stroke-width="0.5"/>
<polygon points="360.9,97.4 362.9,95.3 363.8,97.7" fill="#333" stroke="none" stroke-width="0.6"/>
<line x1="483" y1="15.7" x2="507" y2="15.7" stroke="#999" stroke-width="0.8"/>
<circle cx="494.8" cy="15.7" r="2.7" fill="#f6ea10" stroke="#6a6010" stroke-width="0.5"/>
<line x1="483" y1="25" x2="507" y2="25" stroke="#999" stroke-width="0.8"/>
<circle cx="494.8" cy="25" r="2.7" fill="#14d414" stroke="#2a4a10" stroke-width="0.5"/>
<text x="511" y="17.9" font-size="5.9" fill="#333" stroke="#333" stroke-width="0.04" text-anchor="start" font-weight="normal" textLength="24.5" lengthAdjust="spacingAndGlyphs">Serpentinite</text>
<text x="511" y="27.2" font-size="5.9" fill="#333" stroke="#333" stroke-width="0.04" text-anchor="start" font-weight="normal" textLength="13.3" lengthAdjust="spacingAndGlyphs">Dunite</text>
<circle cx="309.5" cy="14" r="5.4" fill="none" stroke="#555" stroke-width="0.75"/>
<text x="309.5" y="17.2" font-size="11" fill="#111" stroke="#111" stroke-width="0.15" text-anchor="middle" font-weight="normal">d</text>
<path d="M295.8 7.9 H545 V112" fill="none" stroke="#8a8a8a" stroke-width="1.2"/>
<line x1="295.8" y1="112.1" x2="302.3" y2="112.1" stroke="#666" stroke-width="1.0"/>
<line x1="298.8" y1="106.9" x2="302.3" y2="106.9" stroke="#555" stroke-width="0.8"/>
<line x1="298.8" y1="103.8" x2="302.3" y2="103.8" stroke="#555" stroke-width="0.8"/>
<line x1="298.8" y1="101.6" x2="302.3" y2="101.6" stroke="#555" stroke-width="0.8"/>
<line x1="298.8" y1="99.9" x2="302.3" y2="99.9" stroke="#555" stroke-width="0.8"/>
<line x1="298.8" y1="98.6" x2="302.3" y2="98.6" stroke="#555" stroke-width="0.8"/>
<line x1="298.8" y1="97.4" x2="302.3" y2="97.4" stroke="#555" stroke-width="0.8"/>
<line x1="298.8" y1="96.4" x2="302.3" y2="96.4" stroke="#555" stroke-width="0.8"/>
<line x1="298.8" y1="95.5" x2="302.3" y2="95.5" stroke="#555" stroke-width="0.8"/>
<line x1="295.8" y1="94.7" x2="302.3" y2="94.7" stroke="#666" stroke-width="1.0"/>
<line x1="298.8" y1="89.5" x2="302.3" y2="89.5" stroke="#555" stroke-width="0.8"/>
<line x1="298.8" y1="86.4" x2="302.3" y2="86.4" stroke="#555" stroke-width="0.8"/>
<line x1="298.8" y1="84.2" x2="302.3" y2="84.2" stroke="#555" stroke-width="0.8"/>
<line x1="298.8" y1="82.5" x2="302.3" y2="82.5" stroke="#555" stroke-width="0.8"/>
<line x1="298.8" y1="81.2" x2="302.3" y2="81.2" stroke="#555" stroke-width="0.8"/>
<line x1="298.8" y1="80" x2="302.3" y2="80" stroke="#555" stroke-width="0.8"/>
<line x1="298.8" y1="79" x2="302.3" y2="79" stroke="#555" stroke-width="0.8"/>
<line x1="298.8" y1="78.1" x2="302.3" y2="78.1" stroke="#555" stroke-width="0.8"/>
<line x1="295.8" y1="77.3" x2="302.3" y2="77.3" stroke="#666" stroke-width="1.0"/>
<line x1="298.8" y1="72.1" x2="302.3" y2="72.1" stroke="#555" stroke-width="0.8"/>
<line x1="298.8" y1="69" x2="302.3" y2="69" stroke="#555" stroke-width="0.8"/>
<line x1="298.8" y1="66.8" x2="302.3" y2="66.8" stroke="#555" stroke-width="0.8"/>
<line x1="298.8" y1="65.1" x2="302.3" y2="65.1" stroke="#555" stroke-width="0.8"/>
<line x1="298.8" y1="63.8" x2="302.3" y2="63.8" stroke="#555" stroke-width="0.8"/>
<line x1="298.8" y1="62.6" x2="302.3" y2="62.6" stroke="#555" stroke-width="0.8"/>
<line x1="298.8" y1="61.6" x2="302.3" y2="61.6" stroke="#555" stroke-width="0.8"/>
<line x1="298.8" y1="60.7" x2="302.3" y2="60.7" stroke="#555" stroke-width="0.8"/>
<line x1="295.8" y1="59.9" x2="302.3" y2="59.9" stroke="#666" stroke-width="1.0"/>
<line x1="298.8" y1="54.7" x2="302.3" y2="54.7" stroke="#555" stroke-width="0.8"/>
<line x1="298.8" y1="51.6" x2="302.3" y2="51.6" stroke="#555" stroke-width="0.8"/>
<line x1="298.8" y1="49.4" x2="302.3" y2="49.4" stroke="#555" stroke-width="0.8"/>
<line x1="298.8" y1="47.7" x2="302.3" y2="47.7" stroke="#555" stroke-width="0.8"/>
<line x1="298.8" y1="46.4" x2="302.3" y2="46.4" stroke="#555" stroke-width="0.8"/>
<line x1="298.8" y1="45.2" x2="302.3" y2="45.2" stroke="#555" stroke-width="0.8"/>
<line x1="298.8" y1="44.2" x2="302.3" y2="44.2" stroke="#555" stroke-width="0.8"/>
<line x1="298.8" y1="43.3" x2="302.3" y2="43.3" stroke="#555" stroke-width="0.8"/>
<line x1="295.8" y1="42.5" x2="302.3" y2="42.5" stroke="#666" stroke-width="1.0"/>
<line x1="298.8" y1="37.3" x2="302.3" y2="37.3" stroke="#555" stroke-width="0.8"/>
<line x1="298.8" y1="34.2" x2="302.3" y2="34.2" stroke="#555" stroke-width="0.8"/>
<line x1="298.8" y1="32" x2="302.3" y2="32" stroke="#555" stroke-width="0.8"/>
<line x1="298.8" y1="30.3" x2="302.3" y2="30.3" stroke="#555" stroke-width="0.8"/>
<line x1="298.8" y1="29" x2="302.3" y2="29" stroke="#555" stroke-width="0.8"/>
<line x1="298.8" y1="27.8" x2="302.3" y2="27.8" stroke="#555" stroke-width="0.8"/>
<line x1="298.8" y1="26.8" x2="302.3" y2="26.8" stroke="#555" stroke-width="0.8"/>
<line x1="298.8" y1="25.9" x2="302.3" y2="25.9" stroke="#555" stroke-width="0.8"/>
<line x1="295.8" y1="25.1" x2="302.3" y2="25.1" stroke="#666" stroke-width="1.0"/>
<line x1="298.8" y1="19.9" x2="302.3" y2="19.9" stroke="#555" stroke-width="0.8"/>
<line x1="298.8" y1="16.8" x2="302.3" y2="16.8" stroke="#555" stroke-width="0.8"/>
<line x1="298.8" y1="14.6" x2="302.3" y2="14.6" stroke="#555" stroke-width="0.8"/>
<line x1="298.8" y1="12.9" x2="302.3" y2="12.9" stroke="#555" stroke-width="0.8"/>
<line x1="298.8" y1="11.6" x2="302.3" y2="11.6" stroke="#555" stroke-width="0.8"/>
<line x1="298.8" y1="10.4" x2="302.3" y2="10.4" stroke="#555" stroke-width="0.8"/>
<line x1="298.8" y1="9.4" x2="302.3" y2="9.4" stroke="#555" stroke-width="0.8"/>
<line x1="298.8" y1="8.5" x2="302.3" y2="8.5" stroke="#555" stroke-width="0.8"/>
<path d="M302.3 7.9 V112 H545.6" fill="none" stroke="#555" stroke-width="1.3"/>
<line x1="295.8" y1="112" x2="302.3" y2="112" stroke="#555" stroke-width="1.3"/>
<line x1="312.1" y1="112" x2="312.1" y2="114" stroke="#666" stroke-width="0.8"/>
<line x1="321.4" y1="112" x2="321.4" y2="114" stroke="#666" stroke-width="0.8"/>
<line x1="330.7" y1="112" x2="330.7" y2="114" stroke="#666" stroke-width="0.8"/>
<line x1="340.1" y1="112" x2="340.1" y2="114" stroke="#666" stroke-width="0.8"/>
<line x1="349.4" y1="112" x2="349.4" y2="114" stroke="#666" stroke-width="0.8"/>
<line x1="358.7" y1="112" x2="358.7" y2="114" stroke="#666" stroke-width="0.8"/>
<line x1="368" y1="112" x2="368" y2="114" stroke="#666" stroke-width="0.8"/>
<line x1="377.3" y1="112" x2="377.3" y2="114" stroke="#666" stroke-width="0.8"/>
<line x1="386.7" y1="112" x2="386.7" y2="114" stroke="#666" stroke-width="0.8"/>
<line x1="396" y1="112" x2="396" y2="114" stroke="#666" stroke-width="0.8"/>
<line x1="405.3" y1="112" x2="405.3" y2="114" stroke="#666" stroke-width="0.8"/>
<line x1="414.6" y1="112" x2="414.6" y2="114" stroke="#666" stroke-width="0.8"/>
<line x1="423.9" y1="112" x2="423.9" y2="114" stroke="#666" stroke-width="0.8"/>
<line x1="433.3" y1="112" x2="433.3" y2="114" stroke="#666" stroke-width="0.8"/>
<line x1="442.6" y1="112" x2="442.6" y2="114" stroke="#666" stroke-width="0.8"/>
<line x1="451.9" y1="112" x2="451.9" y2="114" stroke="#666" stroke-width="0.8"/>
<line x1="461.2" y1="112" x2="461.2" y2="114" stroke="#666" stroke-width="0.8"/>
<line x1="470.5" y1="112" x2="470.5" y2="114" stroke="#666" stroke-width="0.8"/>
<line x1="479.9" y1="112" x2="479.9" y2="114" stroke="#666" stroke-width="0.8"/>
<line x1="489.2" y1="112" x2="489.2" y2="114" stroke="#666" stroke-width="0.8"/>
<line x1="498.5" y1="112" x2="498.5" y2="114" stroke="#666" stroke-width="0.8"/>
<line x1="507.8" y1="112" x2="507.8" y2="114" stroke="#666" stroke-width="0.8"/>
<line x1="517.1" y1="112" x2="517.1" y2="114" stroke="#666" stroke-width="0.8"/>
<line x1="526.5" y1="112" x2="526.5" y2="114" stroke="#666" stroke-width="0.8"/>
<line x1="535.8" y1="112" x2="535.8" y2="114" stroke="#666" stroke-width="0.8"/>
<text x="292.2" y="9.8" font-size="5.8" fill="#3c3c3c" stroke="#3c3c3c" stroke-width="0.05" text-anchor="end" font-weight="normal">100</text>
<text x="292.2" y="27.2" font-size="5.8" fill="#3c3c3c" stroke="#3c3c3c" stroke-width="0.05" text-anchor="end" font-weight="normal">10</text>
<text x="292.2" y="44.6" font-size="5.8" fill="#3c3c3c" stroke="#3c3c3c" stroke-width="0.05" text-anchor="end" font-weight="normal">1</text>
<text x="292.2" y="62" font-size="5.8" fill="#3c3c3c" stroke="#3c3c3c" stroke-width="0.05" text-anchor="end" font-weight="normal">0.1</text>
<text x="292.2" y="79.4" font-size="5.8" fill="#3c3c3c" stroke="#3c3c3c" stroke-width="0.05" text-anchor="end" font-weight="normal">0.01</text>
<text x="292.2" y="96.8" font-size="5.8" fill="#3c3c3c" stroke="#3c3c3c" stroke-width="0.05" text-anchor="end" font-weight="normal">0.001</text>
<text x="292.2" y="114.2" font-size="5.8" fill="#3c3c3c" stroke="#3c3c3c" stroke-width="0.05" text-anchor="end" font-weight="normal">0.0001</text>
<text x="312.1" y="124" font-size="6" fill="#3c3c3c" stroke="#3c3c3c" stroke-width="0.05" text-anchor="middle" font-weight="normal">Cs</text>
<text x="321.4" y="124" font-size="6" fill="#3c3c3c" stroke="#3c3c3c" stroke-width="0.05" text-anchor="middle" font-weight="normal">Rb</text>
<text x="330.7" y="124" font-size="6" fill="#3c3c3c" stroke="#3c3c3c" stroke-width="0.05" text-anchor="middle" font-weight="normal">Ba</text>
<text x="340.1" y="124" font-size="6" fill="#3c3c3c" stroke="#3c3c3c" stroke-width="0.05" text-anchor="middle" font-weight="normal">Th</text>
<text x="349.4" y="124" font-size="6" fill="#3c3c3c" stroke="#3c3c3c" stroke-width="0.05" text-anchor="middle" font-weight="normal">U</text>
<text x="358.7" y="124" font-size="6" fill="#3c3c3c" stroke="#3c3c3c" stroke-width="0.05" text-anchor="middle" font-weight="normal">Nb</text>
<text x="368" y="124" font-size="6" fill="#3c3c3c" stroke="#3c3c3c" stroke-width="0.05" text-anchor="middle" font-weight="normal">La</text>
<text x="377.3" y="124" font-size="6" fill="#3c3c3c" stroke="#3c3c3c" stroke-width="0.05" text-anchor="middle" font-weight="normal">Ce</text>
<text x="386.7" y="124" font-size="6" fill="#3c3c3c" stroke="#3c3c3c" stroke-width="0.05" text-anchor="middle" font-weight="normal">Pb</text>
<text x="396" y="124" font-size="6" fill="#3c3c3c" stroke="#3c3c3c" stroke-width="0.05" text-anchor="middle" font-weight="normal">Pr</text>
<text x="405.3" y="124" font-size="6" fill="#3c3c3c" stroke="#3c3c3c" stroke-width="0.05" text-anchor="middle" font-weight="normal">Sr</text>
<text x="414.6" y="124" font-size="6" fill="#3c3c3c" stroke="#3c3c3c" stroke-width="0.05" text-anchor="middle" font-weight="normal">Nd</text>
<text x="423.9" y="124" font-size="6" fill="#3c3c3c" stroke="#3c3c3c" stroke-width="0.05" text-anchor="middle" font-weight="normal">Zr</text>
<text x="433.3" y="124" font-size="6" fill="#3c3c3c" stroke="#3c3c3c" stroke-width="0.05" text-anchor="middle" font-weight="normal">Hf</text>
<text x="442.6" y="124" font-size="6" fill="#3c3c3c" stroke="#3c3c3c" stroke-width="0.05" text-anchor="middle" font-weight="normal">Sm</text>
<text x="451.9" y="124" font-size="6" fill="#3c3c3c" stroke="#3c3c3c" stroke-width="0.05" text-anchor="middle" font-weight="normal">Eu</text>
<text x="461.2" y="124" font-size="6" fill="#3c3c3c" stroke="#3c3c3c" stroke-width="0.05" text-anchor="middle" font-weight="normal">Gd</text>
<text x="470.5" y="124" font-size="6" fill="#3c3c3c" stroke="#3c3c3c" stroke-width="0.05" text-anchor="middle" font-weight="normal">Tb</text>
<text x="479.9" y="124" font-size="6" fill="#3c3c3c" stroke="#3c3c3c" stroke-width="0.05" text-anchor="middle" font-weight="normal">Ti</text>
<text x="489.2" y="124" font-size="6" fill="#3c3c3c" stroke="#3c3c3c" stroke-width="0.05" text-anchor="middle" font-weight="normal">Dy</text>
<text x="498.5" y="124" font-size="6" fill="#3c3c3c" stroke="#3c3c3c" stroke-width="0.05" text-anchor="middle" font-weight="normal">Ho</text>
<text x="507.8" y="124" font-size="6" fill="#3c3c3c" stroke="#3c3c3c" stroke-width="0.05" text-anchor="middle" font-weight="normal">Er</text>
<text x="517.1" y="124" font-size="6" fill="#3c3c3c" stroke="#3c3c3c" stroke-width="0.05" text-anchor="middle" font-weight="normal">Yb</text>
<text x="526.5" y="124" font-size="6" fill="#3c3c3c" stroke="#3c3c3c" stroke-width="0.05" text-anchor="middle" font-weight="normal">Lu</text>
<text x="535.8" y="124" font-size="6" fill="#3c3c3c" stroke="#3c3c3c" stroke-width="0.05" text-anchor="middle" font-weight="normal">Y</text>
<text transform="translate(274.5 60.5) rotate(-90)" font-size="5.3" fill="#3c3c3c" stroke="#3c3c3c" stroke-width="0.05" text-anchor="middle">Rock/Primitive mantle</text>
<polygon points="310.5,150 312.1,144 321.4,170.7 330.7,161.4 340,183 349.4,181 358.7,178.6 368,172 377.3,168 386.7,145.7 396,160.5 405.4,149.4 414.7,161.4 424,165 433,166 438,158 445,154.5 470,153.5 490,152.4 537.2,152 537.2,183 524,181 513,178.5 490,178.5 478,180 442,184 437,192 430,205 424,216.6 414.7,208.3 405.4,187.6 396,204.2 386.7,173.7 377.3,202.8 368,201.5 358.7,212.5 349.4,200 340,212.5 330.7,192 321.4,202 312.1,195.4 310.5,192" fill="#c9c9c9" stroke="none" stroke-width="0.6"/>
<polyline points="310.5,150 312.1,144 321.4,170.7 330.7,161.4 340,183 349.4,181 358.7,178.6 368,172 377.3,168 386.7,145.7 396,160.5 405.4,149.4 414.7,161.4 424,165 433,166 438,158 445,154.5 470,153.5 490,152.4 537.2,152" fill="none" stroke="#8a8a8a" stroke-width="0.5" stroke-linejoin="round" stroke-dasharray="0.8,0.8"/>
<polyline points="537.2,183 524,181 513,178.5 490,178.5 478,180 442,184 437,192 430,205 424,216.6 414.7,208.3 405.4,187.6 396,204.2 386.7,173.7 377.3,202.8 368,201.5 358.7,212.5 349.4,200 340,212.5 330.7,192 321.4,202 312.1,195.4 310.5,192" fill="none" stroke="#8a8a8a" stroke-width="0.5" stroke-linejoin="round" stroke-dasharray="0.8,0.8"/>
<polyline points="312.1,153 321.4,153 330.7,155.4 340.1,156.7 349.4,152 358.7,164 368,163.3 377.3,165.5 386.7,142 396,165.1 405.3,158.1 414.6,167 423.9,168.4 433.3,168.2 442.6,165.6 451.9,168.2 461.2,162.9 470.5,160.6 479.9,169.7 489.2,159.8 498.5,158.7 507.8,156.1 517.1,157.7 526.5,157.7 535.8,155.5" fill="none" stroke="#7a6060" stroke-width="0.6" stroke-linejoin="round"/>
<polyline points="312.1,153 321.4,170.7 330.7,162.2 340.1,171.5 349.4,168.8 358.7,170.2 368,174.4 377.3,176.2 386.7,154 396,169.2 405.3,167.9 414.6,171 423.9,174.4 433.3,177.2 442.6,171.6 451.9,172.4 461.2,169.3 470.5,168.2 479.9,174 489.2,166.9 498.5,165.3 507.8,163.4 517.1,163.4 526.5,162.6 535.8,164" fill="none" stroke="#7a6060" stroke-width="0.6" stroke-linejoin="round"/>
<polyline points="312.1,178.3 321.4,192.4 330.7,180 340.1,180.2 349.4,178.1 358.7,185.5 368,178.4 377.3,179.5 386.7,158.1 396,175.3 405.3,171 414.6,175.3 423.9,185.5 433.3,182.7 442.6,174.5 451.9,172.4 461.2,173.2 470.5,172.9 479.9,174 489.2,173.2 498.5,173.2 507.8,172 517.1,171.6 526.5,171.6 535.8,173.2" fill="none" stroke="#7a6060" stroke-width="0.6" stroke-linejoin="round"/>
<polyline points="312.1,185.5 321.4,193.7 330.7,189.8 340.1,187 349.4,182.3 358.7,187.6 368,183.2 377.3,179.5 386.7,160 396,179 405.3,175.8 414.6,179.5 423.9,188.8 433.3,187.2 442.6,178 451.9,178.8 461.2,177.2 470.5,176.7 479.9,179.9 489.2,176.1 498.5,175.1 507.8,174 517.1,174.5 526.5,174.8 535.8,175.1" fill="none" stroke="#7a6060" stroke-width="0.6" stroke-linejoin="round"/>
<polyline points="312.1,188.4 321.4,207.5 330.7,189.8 340.1,192.5 349.4,196 358.7,202 368,183.2 377.3,179.5 386.7,160 396,179 405.3,181.4 414.6,179.5 423.9,191.9 433.3,187.2 442.6,178 451.9,178.8 461.2,177.2 470.5,176.7 479.9,179.9 489.2,176.1 498.5,175.1 507.8,176.1 517.1,177.7 526.5,178 535.8,175.1" fill="none" stroke="#7a6060" stroke-width="0.6" stroke-linejoin="round"/>
<circle cx="312.1" cy="153" r="2" fill="#16dede" stroke="#0b5d60" stroke-width="0.5"/>
<circle cx="321.4" cy="153" r="2" fill="#16dede" stroke="#0b5d60" stroke-width="0.5"/>
<circle cx="330.7" cy="155.4" r="2" fill="#16dede" stroke="#0b5d60" stroke-width="0.5"/>
<circle cx="340.1" cy="156.7" r="2" fill="#16dede" stroke="#0b5d60" stroke-width="0.5"/>
<circle cx="349.4" cy="152" r="2" fill="#16dede" stroke="#0b5d60" stroke-width="0.5"/>
<circle cx="358.7" cy="164" r="2" fill="#16dede" stroke="#0b5d60" stroke-width="0.5"/>
<circle cx="368" cy="163.3" r="2" fill="#16dede" stroke="#0b5d60" stroke-width="0.5"/>
<circle cx="377.3" cy="165.5" r="2" fill="#16dede" stroke="#0b5d60" stroke-width="0.5"/>
<circle cx="386.7" cy="142" r="2" fill="#16dede" stroke="#0b5d60" stroke-width="0.5"/>
<circle cx="396" cy="165.1" r="2" fill="#16dede" stroke="#0b5d60" stroke-width="0.5"/>
<circle cx="405.3" cy="158.1" r="2" fill="#16dede" stroke="#0b5d60" stroke-width="0.5"/>
<circle cx="414.6" cy="167" r="2" fill="#16dede" stroke="#0b5d60" stroke-width="0.5"/>
<circle cx="423.9" cy="168.4" r="2" fill="#16dede" stroke="#0b5d60" stroke-width="0.5"/>
<circle cx="433.3" cy="168.2" r="2" fill="#16dede" stroke="#0b5d60" stroke-width="0.5"/>
<circle cx="442.6" cy="165.6" r="2" fill="#16dede" stroke="#0b5d60" stroke-width="0.5"/>
<circle cx="451.9" cy="168.2" r="2" fill="#16dede" stroke="#0b5d60" stroke-width="0.5"/>
<circle cx="461.2" cy="162.9" r="2" fill="#16dede" stroke="#0b5d60" stroke-width="0.5"/>
<circle cx="470.5" cy="160.6" r="2" fill="#16dede" stroke="#0b5d60" stroke-width="0.5"/>
<circle cx="479.9" cy="169.7" r="2" fill="#16dede" stroke="#0b5d60" stroke-width="0.5"/>
<circle cx="489.2" cy="159.8" r="2" fill="#16dede" stroke="#0b5d60" stroke-width="0.5"/>
<circle cx="498.5" cy="158.7" r="2" fill="#16dede" stroke="#0b5d60" stroke-width="0.5"/>
<circle cx="507.8" cy="156.1" r="2" fill="#16dede" stroke="#0b5d60" stroke-width="0.5"/>
<circle cx="517.1" cy="157.7" r="2" fill="#16dede" stroke="#0b5d60" stroke-width="0.5"/>
<circle cx="526.5" cy="157.7" r="2" fill="#16dede" stroke="#0b5d60" stroke-width="0.5"/>
<circle cx="535.8" cy="155.5" r="2" fill="#16dede" stroke="#0b5d60" stroke-width="0.5"/>
<circle cx="312.1" cy="153" r="2" fill="#16dede" stroke="#0b5d60" stroke-width="0.5"/>
<circle cx="321.4" cy="170.7" r="2" fill="#16dede" stroke="#0b5d60" stroke-width="0.5"/>
<circle cx="330.7" cy="162.2" r="2" fill="#16dede" stroke="#0b5d60" stroke-width="0.5"/>
<circle cx="340.1" cy="171.5" r="2" fill="#16dede" stroke="#0b5d60" stroke-width="0.5"/>
<circle cx="349.4" cy="168.8" r="2" fill="#16dede" stroke="#0b5d60" stroke-width="0.5"/>
<circle cx="358.7" cy="170.2" r="2" fill="#16dede" stroke="#0b5d60" stroke-width="0.5"/>
<circle cx="368" cy="174.4" r="2" fill="#16dede" stroke="#0b5d60" stroke-width="0.5"/>
<circle cx="377.3" cy="176.2" r="2" fill="#16dede" stroke="#0b5d60" stroke-width="0.5"/>
<circle cx="386.7" cy="154" r="2" fill="#16dede" stroke="#0b5d60" stroke-width="0.5"/>
<circle cx="396" cy="169.2" r="2" fill="#16dede" stroke="#0b5d60" stroke-width="0.5"/>
<circle cx="405.3" cy="167.9" r="2" fill="#16dede" stroke="#0b5d60" stroke-width="0.5"/>
<circle cx="414.6" cy="171" r="2" fill="#16dede" stroke="#0b5d60" stroke-width="0.5"/>
<circle cx="423.9" cy="174.4" r="2" fill="#16dede" stroke="#0b5d60" stroke-width="0.5"/>
<circle cx="433.3" cy="177.2" r="2" fill="#16dede" stroke="#0b5d60" stroke-width="0.5"/>
<circle cx="442.6" cy="171.6" r="2" fill="#16dede" stroke="#0b5d60" stroke-width="0.5"/>
<circle cx="451.9" cy="172.4" r="2" fill="#16dede" stroke="#0b5d60" stroke-width="0.5"/>
<circle cx="461.2" cy="169.3" r="2" fill="#16dede" stroke="#0b5d60" stroke-width="0.5"/>
<circle cx="470.5" cy="168.2" r="2" fill="#16dede" stroke="#0b5d60" stroke-width="0.5"/>
<circle cx="479.9" cy="174" r="2" fill="#16dede" stroke="#0b5d60" stroke-width="0.5"/>
<circle cx="489.2" cy="166.9" r="2" fill="#16dede" stroke="#0b5d60" stroke-width="0.5"/>
<circle cx="498.5" cy="165.3" r="2" fill="#16dede" stroke="#0b5d60" stroke-width="0.5"/>
<circle cx="507.8" cy="163.4" r="2" fill="#16dede" stroke="#0b5d60" stroke-width="0.5"/>
<circle cx="517.1" cy="163.4" r="2" fill="#16dede" stroke="#0b5d60" stroke-width="0.5"/>
<circle cx="526.5" cy="162.6" r="2" fill="#16dede" stroke="#0b5d60" stroke-width="0.5"/>
<circle cx="535.8" cy="164" r="2" fill="#16dede" stroke="#0b5d60" stroke-width="0.5"/>
<circle cx="312.1" cy="178.3" r="2" fill="#16dede" stroke="#0b5d60" stroke-width="0.5"/>
<circle cx="321.4" cy="192.4" r="2" fill="#16dede" stroke="#0b5d60" stroke-width="0.5"/>
<circle cx="330.7" cy="180" r="2" fill="#16dede" stroke="#0b5d60" stroke-width="0.5"/>
<circle cx="340.1" cy="180.2" r="2" fill="#16dede" stroke="#0b5d60" stroke-width="0.5"/>
<circle cx="349.4" cy="178.1" r="2" fill="#16dede" stroke="#0b5d60" stroke-width="0.5"/>
<circle cx="358.7" cy="185.5" r="2" fill="#16dede" stroke="#0b5d60" stroke-width="0.5"/>
<circle cx="368" cy="178.4" r="2" fill="#16dede" stroke="#0b5d60" stroke-width="0.5"/>
<circle cx="377.3" cy="179.5" r="2" fill="#16dede" stroke="#0b5d60" stroke-width="0.5"/>
<circle cx="386.7" cy="158.1" r="2" fill="#16dede" stroke="#0b5d60" stroke-width="0.5"/>
<circle cx="396" cy="175.3" r="2" fill="#16dede" stroke="#0b5d60" stroke-width="0.5"/>
<circle cx="405.3" cy="171" r="2" fill="#16dede" stroke="#0b5d60" stroke-width="0.5"/>
<circle cx="414.6" cy="175.3" r="2" fill="#16dede" stroke="#0b5d60" stroke-width="0.5"/>
<circle cx="423.9" cy="185.5" r="2" fill="#16dede" stroke="#0b5d60" stroke-width="0.5"/>
<circle cx="433.3" cy="182.7" r="2" fill="#16dede" stroke="#0b5d60" stroke-width="0.5"/>
<circle cx="442.6" cy="174.5" r="2" fill="#16dede" stroke="#0b5d60" stroke-width="0.5"/>
<circle cx="451.9" cy="172.4" r="2" fill="#16dede" stroke="#0b5d60" stroke-width="0.5"/>
<circle cx="461.2" cy="173.2" r="2" fill="#16dede" stroke="#0b5d60" stroke-width="0.5"/>
<circle cx="470.5" cy="172.9" r="2" fill="#16dede" stroke="#0b5d60" stroke-width="0.5"/>
<circle cx="479.9" cy="174" r="2" fill="#16dede" stroke="#0b5d60" stroke-width="0.5"/>
<circle cx="489.2" cy="173.2" r="2" fill="#16dede" stroke="#0b5d60" stroke-width="0.5"/>
<circle cx="498.5" cy="173.2" r="2" fill="#16dede" stroke="#0b5d60" stroke-width="0.5"/>
<circle cx="507.8" cy="172" r="2" fill="#16dede" stroke="#0b5d60" stroke-width="0.5"/>
<circle cx="517.1" cy="171.6" r="2" fill="#16dede" stroke="#0b5d60" stroke-width="0.5"/>
<circle cx="526.5" cy="171.6" r="2" fill="#16dede" stroke="#0b5d60" stroke-width="0.5"/>
<circle cx="535.8" cy="173.2" r="2" fill="#16dede" stroke="#0b5d60" stroke-width="0.5"/>
<circle cx="312.1" cy="185.5" r="2" fill="#16dede" stroke="#0b5d60" stroke-width="0.5"/>
<circle cx="321.4" cy="193.7" r="2" fill="#16dede" stroke="#0b5d60" stroke-width="0.5"/>
<circle cx="330.7" cy="189.8" r="2" fill="#16dede" stroke="#0b5d60" stroke-width="0.5"/>
<circle cx="340.1" cy="187" r="2" fill="#16dede" stroke="#0b5d60" stroke-width="0.5"/>
<circle cx="349.4" cy="182.3" r="2" fill="#16dede" stroke="#0b5d60" stroke-width="0.5"/>
<circle cx="358.7" cy="187.6" r="2" fill="#16dede" stroke="#0b5d60" stroke-width="0.5"/>
<circle cx="368" cy="183.2" r="2" fill="#16dede" stroke="#0b5d60" stroke-width="0.5"/>
<circle cx="377.3" cy="179.5" r="2" fill="#16dede" stroke="#0b5d60" stroke-width="0.5"/>
<circle cx="386.7" cy="160" r="2" fill="#16dede" stroke="#0b5d60" stroke-width="0.5"/>
<circle cx="396" cy="179" r="2" fill="#16dede" stroke="#0b5d60" stroke-width="0.5"/>
<circle cx="405.3" cy="175.8" r="2" fill="#16dede" stroke="#0b5d60" stroke-width="0.5"/>
<circle cx="414.6" cy="179.5" r="2" fill="#16dede" stroke="#0b5d60" stroke-width="0.5"/>
<circle cx="423.9" cy="188.8" r="2" fill="#16dede" stroke="#0b5d60" stroke-width="0.5"/>
<circle cx="433.3" cy="187.2" r="2" fill="#16dede" stroke="#0b5d60" stroke-width="0.5"/>
<circle cx="442.6" cy="178" r="2" fill="#16dede" stroke="#0b5d60" stroke-width="0.5"/>
<circle cx="451.9" cy="178.8" r="2" fill="#16dede" stroke="#0b5d60" stroke-width="0.5"/>
<circle cx="461.2" cy="177.2" r="2" fill="#16dede" stroke="#0b5d60" stroke-width="0.5"/>
<circle cx="470.5" cy="176.7" r="2" fill="#16dede" stroke="#0b5d60" stroke-width="0.5"/>
<circle cx="479.9" cy="179.9" r="2" fill="#16dede" stroke="#0b5d60" stroke-width="0.5"/>
<circle cx="489.2" cy="176.1" r="2" fill="#16dede" stroke="#0b5d60" stroke-width="0.5"/>
<circle cx="498.5" cy="175.1" r="2" fill="#16dede" stroke="#0b5d60" stroke-width="0.5"/>
<circle cx="507.8" cy="174" r="2" fill="#16dede" stroke="#0b5d60" stroke-width="0.5"/>
<circle cx="517.1" cy="174.5" r="2" fill="#16dede" stroke="#0b5d60" stroke-width="0.5"/>
<circle cx="526.5" cy="174.8" r="2" fill="#16dede" stroke="#0b5d60" stroke-width="0.5"/>
<circle cx="535.8" cy="175.1" r="2" fill="#16dede" stroke="#0b5d60" stroke-width="0.5"/>
<circle cx="312.1" cy="188.4" r="2" fill="#16dede" stroke="#0b5d60" stroke-width="0.5"/>
<circle cx="321.4" cy="207.5" r="2" fill="#16dede" stroke="#0b5d60" stroke-width="0.5"/>
<circle cx="330.7" cy="189.8" r="2" fill="#16dede" stroke="#0b5d60" stroke-width="0.5"/>
<circle cx="340.1" cy="192.5" r="2" fill="#16dede" stroke="#0b5d60" stroke-width="0.5"/>
<circle cx="349.4" cy="196" r="2" fill="#16dede" stroke="#0b5d60" stroke-width="0.5"/>
<circle cx="358.7" cy="202" r="2" fill="#16dede" stroke="#0b5d60" stroke-width="0.5"/>
<circle cx="368" cy="183.2" r="2" fill="#16dede" stroke="#0b5d60" stroke-width="0.5"/>
<circle cx="377.3" cy="179.5" r="2" fill="#16dede" stroke="#0b5d60" stroke-width="0.5"/>
<circle cx="386.7" cy="160" r="2" fill="#16dede" stroke="#0b5d60" stroke-width="0.5"/>
<circle cx="396" cy="179" r="2" fill="#16dede" stroke="#0b5d60" stroke-width="0.5"/>
<circle cx="405.3" cy="181.4" r="2" fill="#16dede" stroke="#0b5d60" stroke-width="0.5"/>
<circle cx="414.6" cy="179.5" r="2" fill="#16dede" stroke="#0b5d60" stroke-width="0.5"/>
<circle cx="423.9" cy="191.9" r="2" fill="#16dede" stroke="#0b5d60" stroke-width="0.5"/>
<circle cx="433.3" cy="187.2" r="2" fill="#16dede" stroke="#0b5d60" stroke-width="0.5"/>
<circle cx="442.6" cy="178" r="2" fill="#16dede" stroke="#0b5d60" stroke-width="0.5"/>
<circle cx="451.9" cy="178.8" r="2" fill="#16dede" stroke="#0b5d60" stroke-width="0.5"/>
<circle cx="461.2" cy="177.2" r="2" fill="#16dede" stroke="#0b5d60" stroke-width="0.5"/>
<circle cx="470.5" cy="176.7" r="2" fill="#16dede" stroke="#0b5d60" stroke-width="0.5"/>
<circle cx="479.9" cy="179.9" r="2" fill="#16dede" stroke="#0b5d60" stroke-width="0.5"/>
<circle cx="489.2" cy="176.1" r="2" fill="#16dede" stroke="#0b5d60" stroke-width="0.5"/>
<circle cx="498.5" cy="175.1" r="2" fill="#16dede" stroke="#0b5d60" stroke-width="0.5"/>
<circle cx="507.8" cy="176.1" r="2" fill="#16dede" stroke="#0b5d60" stroke-width="0.5"/>
<circle cx="517.1" cy="177.7" r="2" fill="#16dede" stroke="#0b5d60" stroke-width="0.5"/>
<circle cx="526.5" cy="178" r="2" fill="#16dede" stroke="#0b5d60" stroke-width="0.5"/>
<circle cx="535.8" cy="175.1" r="2" fill="#16dede" stroke="#0b5d60" stroke-width="0.5"/>
<line x1="467.6" y1="137.6" x2="486.2" y2="137.6" stroke="#777" stroke-width="0.7"/>
<circle cx="476.9" cy="137.6" r="2.2" fill="#16dede" stroke="#0b5d60" stroke-width="0.5"/>
<text x="489.2" y="139.6" font-size="5.2" fill="#333" stroke="#333" stroke-width="0.04" text-anchor="start" font-weight="normal" textLength="18.8" lengthAdjust="spacingAndGlyphs">Pyroxenites</text>
<text x="448.7" y="209.2" font-size="6.0" fill="#333" stroke="#333" stroke-width="0.04" text-anchor="start" font-weight="normal" textLength="42.6" lengthAdjust="spacingAndGlyphs">Subduction Zone</text>
<text x="453.1" y="216.2" font-size="6.0" fill="#333" stroke="#333" stroke-width="0.04" text-anchor="start" font-weight="normal" textLength="28.9" lengthAdjust="spacingAndGlyphs">pyroxenites</text>
<line x1="429.3" y1="201.3" x2="445.6" y2="206.3" stroke="#333" stroke-width="0.6"/>
<polygon points="445.6,206.3 442.5,206.8 443.3,204.1" fill="#333" stroke="none" stroke-width="0.6"/>
<circle cx="310.6" cy="136.2" r="5.3" fill="none" stroke="#555" stroke-width="0.75"/>
<text x="310.6" y="139.6" font-size="9.6" fill="#111" stroke="#111" stroke-width="0.15" text-anchor="middle" font-weight="normal">e</text>
<path d="M295.8 128 H545 V232.8" fill="none" stroke="#8a8a8a" stroke-width="1.2"/>
<line x1="295.8" y1="233" x2="302.3" y2="233" stroke="#666" stroke-width="1.0"/>
<line x1="298.8" y1="226.7" x2="302.3" y2="226.7" stroke="#555" stroke-width="0.8"/>
<line x1="298.8" y1="223" x2="302.3" y2="223" stroke="#555" stroke-width="0.8"/>
<line x1="298.8" y1="220.4" x2="302.3" y2="220.4" stroke="#555" stroke-width="0.8"/>
<line x1="298.8" y1="218.3" x2="302.3" y2="218.3" stroke="#555" stroke-width="0.8"/>
<line x1="298.8" y1="216.7" x2="302.3" y2="216.7" stroke="#555" stroke-width="0.8"/>
<line x1="298.8" y1="215.3" x2="302.3" y2="215.3" stroke="#555" stroke-width="0.8"/>
<line x1="298.8" y1="214" x2="302.3" y2="214" stroke="#555" stroke-width="0.8"/>
<line x1="298.8" y1="213" x2="302.3" y2="213" stroke="#555" stroke-width="0.8"/>
<line x1="295.8" y1="212" x2="302.3" y2="212" stroke="#666" stroke-width="1.0"/>
<line x1="298.8" y1="205.7" x2="302.3" y2="205.7" stroke="#555" stroke-width="0.8"/>
<line x1="298.8" y1="202" x2="302.3" y2="202" stroke="#555" stroke-width="0.8"/>
<line x1="298.8" y1="199.4" x2="302.3" y2="199.4" stroke="#555" stroke-width="0.8"/>
<line x1="298.8" y1="197.3" x2="302.3" y2="197.3" stroke="#555" stroke-width="0.8"/>
<line x1="298.8" y1="195.7" x2="302.3" y2="195.7" stroke="#555" stroke-width="0.8"/>
<line x1="298.8" y1="194.3" x2="302.3" y2="194.3" stroke="#555" stroke-width="0.8"/>
<line x1="298.8" y1="193" x2="302.3" y2="193" stroke="#555" stroke-width="0.8"/>
<line x1="298.8" y1="192" x2="302.3" y2="192" stroke="#555" stroke-width="0.8"/>
<line x1="295.8" y1="191" x2="302.3" y2="191" stroke="#666" stroke-width="1.0"/>
<line x1="298.8" y1="184.7" x2="302.3" y2="184.7" stroke="#555" stroke-width="0.8"/>
<line x1="298.8" y1="181" x2="302.3" y2="181" stroke="#555" stroke-width="0.8"/>
<line x1="298.8" y1="178.4" x2="302.3" y2="178.4" stroke="#555" stroke-width="0.8"/>
<line x1="298.8" y1="176.3" x2="302.3" y2="176.3" stroke="#555" stroke-width="0.8"/>
<line x1="298.8" y1="174.7" x2="302.3" y2="174.7" stroke="#555" stroke-width="0.8"/>
<line x1="298.8" y1="173.3" x2="302.3" y2="173.3" stroke="#555" stroke-width="0.8"/>
<line x1="298.8" y1="172" x2="302.3" y2="172" stroke="#555" stroke-width="0.8"/>
<line x1="298.8" y1="171" x2="302.3" y2="171" stroke="#555" stroke-width="0.8"/>
<line x1="295.8" y1="170" x2="302.3" y2="170" stroke="#666" stroke-width="1.0"/>
<line x1="298.8" y1="163.7" x2="302.3" y2="163.7" stroke="#555" stroke-width="0.8"/>
<line x1="298.8" y1="160" x2="302.3" y2="160" stroke="#555" stroke-width="0.8"/>
<line x1="298.8" y1="157.4" x2="302.3" y2="157.4" stroke="#555" stroke-width="0.8"/>
<line x1="298.8" y1="155.3" x2="302.3" y2="155.3" stroke="#555" stroke-width="0.8"/>
<line x1="298.8" y1="153.7" x2="302.3" y2="153.7" stroke="#555" stroke-width="0.8"/>
<line x1="298.8" y1="152.3" x2="302.3" y2="152.3" stroke="#555" stroke-width="0.8"/>
<line x1="298.8" y1="151" x2="302.3" y2="151" stroke="#555" stroke-width="0.8"/>
<line x1="298.8" y1="150" x2="302.3" y2="150" stroke="#555" stroke-width="0.8"/>
<line x1="295.8" y1="149" x2="302.3" y2="149" stroke="#666" stroke-width="1.0"/>
<line x1="298.8" y1="142.7" x2="302.3" y2="142.7" stroke="#555" stroke-width="0.8"/>
<line x1="298.8" y1="139" x2="302.3" y2="139" stroke="#555" stroke-width="0.8"/>
<line x1="298.8" y1="136.4" x2="302.3" y2="136.4" stroke="#555" stroke-width="0.8"/>
<line x1="298.8" y1="134.3" x2="302.3" y2="134.3" stroke="#555" stroke-width="0.8"/>
<line x1="298.8" y1="132.7" x2="302.3" y2="132.7" stroke="#555" stroke-width="0.8"/>
<line x1="298.8" y1="131.3" x2="302.3" y2="131.3" stroke="#555" stroke-width="0.8"/>
<line x1="298.8" y1="130" x2="302.3" y2="130" stroke="#555" stroke-width="0.8"/>
<line x1="298.8" y1="129" x2="302.3" y2="129" stroke="#555" stroke-width="0.8"/>
<path d="M302.3 128 V232.8 H545.6" fill="none" stroke="#555" stroke-width="1.3"/>
<line x1="295.8" y1="232.8" x2="302.3" y2="232.8" stroke="#555" stroke-width="1.3"/>
<line x1="312.1" y1="232.8" x2="312.1" y2="234.8" stroke="#666" stroke-width="0.8"/>
<line x1="321.4" y1="232.8" x2="321.4" y2="234.8" stroke="#666" stroke-width="0.8"/>
<line x1="330.7" y1="232.8" x2="330.7" y2="234.8" stroke="#666" stroke-width="0.8"/>
<line x1="340.1" y1="232.8" x2="340.1" y2="234.8" stroke="#666" stroke-width="0.8"/>
<line x1="349.4" y1="232.8" x2="349.4" y2="234.8" stroke="#666" stroke-width="0.8"/>
<line x1="358.7" y1="232.8" x2="358.7" y2="234.8" stroke="#666" stroke-width="0.8"/>
<line x1="368" y1="232.8" x2="368" y2="234.8" stroke="#666" stroke-width="0.8"/>
<line x1="377.3" y1="232.8" x2="377.3" y2="234.8" stroke="#666" stroke-width="0.8"/>
<line x1="386.7" y1="232.8" x2="386.7" y2="234.8" stroke="#666" stroke-width="0.8"/>
<line x1="396" y1="232.8" x2="396" y2="234.8" stroke="#666" stroke-width="0.8"/>
<line x1="405.3" y1="232.8" x2="405.3" y2="234.8" stroke="#666" stroke-width="0.8"/>
<line x1="414.6" y1="232.8" x2="414.6" y2="234.8" stroke="#666" stroke-width="0.8"/>
<line x1="423.9" y1="232.8" x2="423.9" y2="234.8" stroke="#666" stroke-width="0.8"/>
<line x1="433.3" y1="232.8" x2="433.3" y2="234.8" stroke="#666" stroke-width="0.8"/>
<line x1="442.6" y1="232.8" x2="442.6" y2="234.8" stroke="#666" stroke-width="0.8"/>
<line x1="451.9" y1="232.8" x2="451.9" y2="234.8" stroke="#666" stroke-width="0.8"/>
<line x1="461.2" y1="232.8" x2="461.2" y2="234.8" stroke="#666" stroke-width="0.8"/>
<line x1="470.5" y1="232.8" x2="470.5" y2="234.8" stroke="#666" stroke-width="0.8"/>
<line x1="479.9" y1="232.8" x2="479.9" y2="234.8" stroke="#666" stroke-width="0.8"/>
<line x1="489.2" y1="232.8" x2="489.2" y2="234.8" stroke="#666" stroke-width="0.8"/>
<line x1="498.5" y1="232.8" x2="498.5" y2="234.8" stroke="#666" stroke-width="0.8"/>
<line x1="507.8" y1="232.8" x2="507.8" y2="234.8" stroke="#666" stroke-width="0.8"/>
<line x1="517.1" y1="232.8" x2="517.1" y2="234.8" stroke="#666" stroke-width="0.8"/>
<line x1="526.5" y1="232.8" x2="526.5" y2="234.8" stroke="#666" stroke-width="0.8"/>
<line x1="535.8" y1="232.8" x2="535.8" y2="234.8" stroke="#666" stroke-width="0.8"/>
<text x="292.2" y="130.1" font-size="5.8" fill="#3c3c3c" stroke="#3c3c3c" stroke-width="0.05" text-anchor="end" font-weight="normal">100</text>
<text x="292.2" y="151.1" font-size="5.8" fill="#3c3c3c" stroke="#3c3c3c" stroke-width="0.05" text-anchor="end" font-weight="normal">10</text>
<text x="292.2" y="172.1" font-size="5.8" fill="#3c3c3c" stroke="#3c3c3c" stroke-width="0.05" text-anchor="end" font-weight="normal">1</text>
<text x="292.2" y="193.1" font-size="5.8" fill="#3c3c3c" stroke="#3c3c3c" stroke-width="0.05" text-anchor="end" font-weight="normal">0.1</text>
<text x="292.2" y="214.1" font-size="5.8" fill="#3c3c3c" stroke="#3c3c3c" stroke-width="0.05" text-anchor="end" font-weight="normal">0.01</text>
<text x="292.2" y="235.1" font-size="5.8" fill="#3c3c3c" stroke="#3c3c3c" stroke-width="0.05" text-anchor="end" font-weight="normal">0.001</text>
<text x="312.1" y="244.2" font-size="6" fill="#3c3c3c" stroke="#3c3c3c" stroke-width="0.05" text-anchor="middle" font-weight="normal">Cs</text>
<text x="321.4" y="244.2" font-size="6" fill="#3c3c3c" stroke="#3c3c3c" stroke-width="0.05" text-anchor="middle" font-weight="normal">Rb</text>
<text x="330.7" y="244.2" font-size="6" fill="#3c3c3c" stroke="#3c3c3c" stroke-width="0.05" text-anchor="middle" font-weight="normal">Ba</text>
<text x="340.1" y="244.2" font-size="6" fill="#3c3c3c" stroke="#3c3c3c" stroke-width="0.05" text-anchor="middle" font-weight="normal">Th</text>
<text x="349.4" y="244.2" font-size="6" fill="#3c3c3c" stroke="#3c3c3c" stroke-width="0.05" text-anchor="middle" font-weight="normal">U</text>
<text x="358.7" y="244.2" font-size="6" fill="#3c3c3c" stroke="#3c3c3c" stroke-width="0.05" text-anchor="middle" font-weight="normal">Nb</text>
<text x="368" y="244.2" font-size="6" fill="#3c3c3c" stroke="#3c3c3c" stroke-width="0.05" text-anchor="middle" font-weight="normal">La</text>
<text x="377.3" y="244.2" font-size="6" fill="#3c3c3c" stroke="#3c3c3c" stroke-width="0.05" text-anchor="middle" font-weight="normal">Ce</text>
<text x="386.7" y="244.2" font-size="6" fill="#3c3c3c" stroke="#3c3c3c" stroke-width="0.05" text-anchor="middle" font-weight="normal">Pb</text>
<text x="396" y="244.2" font-size="6" fill="#3c3c3c" stroke="#3c3c3c" stroke-width="0.05" text-anchor="middle" font-weight="normal">Pr</text>
<text x="405.3" y="244.2" font-size="6" fill="#3c3c3c" stroke="#3c3c3c" stroke-width="0.05" text-anchor="middle" font-weight="normal">Sr</text>
<text x="414.6" y="244.2" font-size="6" fill="#3c3c3c" stroke="#3c3c3c" stroke-width="0.05" text-anchor="middle" font-weight="normal">Nd</text>
<text x="423.9" y="244.2" font-size="6" fill="#3c3c3c" stroke="#3c3c3c" stroke-width="0.05" text-anchor="middle" font-weight="normal">Zr</text>
<text x="433.3" y="244.2" font-size="6" fill="#3c3c3c" stroke="#3c3c3c" stroke-width="0.05" text-anchor="middle" font-weight="normal">Hf</text>
<text x="442.6" y="244.2" font-size="6" fill="#3c3c3c" stroke="#3c3c3c" stroke-width="0.05" text-anchor="middle" font-weight="normal">Sm</text>
<text x="451.9" y="244.2" font-size="6" fill="#3c3c3c" stroke="#3c3c3c" stroke-width="0.05" text-anchor="middle" font-weight="normal">Eu</text>
<text x="461.2" y="244.2" font-size="6" fill="#3c3c3c" stroke="#3c3c3c" stroke-width="0.05" text-anchor="middle" font-weight="normal">Gd</text>
<text x="470.5" y="244.2" font-size="6" fill="#3c3c3c" stroke="#3c3c3c" stroke-width="0.05" text-anchor="middle" font-weight="normal">Tb</text>
<text x="479.9" y="244.2" font-size="6" fill="#3c3c3c" stroke="#3c3c3c" stroke-width="0.05" text-anchor="middle" font-weight="normal">Ti</text>
<text x="489.2" y="244.2" font-size="6" fill="#3c3c3c" stroke="#3c3c3c" stroke-width="0.05" text-anchor="middle" font-weight="normal">Dy</text>
<text x="498.5" y="244.2" font-size="6" fill="#3c3c3c" stroke="#3c3c3c" stroke-width="0.05" text-anchor="middle" font-weight="normal">Ho</text>
<text x="507.8" y="244.2" font-size="6" fill="#3c3c3c" stroke="#3c3c3c" stroke-width="0.05" text-anchor="middle" font-weight="normal">Er</text>
<text x="517.1" y="244.2" font-size="6" fill="#3c3c3c" stroke="#3c3c3c" stroke-width="0.05" text-anchor="middle" font-weight="normal">Yb</text>
<text x="526.5" y="244.2" font-size="6" fill="#3c3c3c" stroke="#3c3c3c" stroke-width="0.05" text-anchor="middle" font-weight="normal">Lu</text>
<text x="535.8" y="244.2" font-size="6" fill="#3c3c3c" stroke="#3c3c3c" stroke-width="0.05" text-anchor="middle" font-weight="normal">Y</text>
<text transform="translate(277.2 180.9) rotate(-90)" font-size="5.3" fill="#3c3c3c" stroke="#3c3c3c" stroke-width="0.05" text-anchor="middle">Rock/Primitive mantle</text>
<polygon points="321.4,262.6 339,263 347,288 358,273 376,274 385.5,264 396,275.6 405,279.4 412,279.6 418,283.5 425,285 465,285 470,281.5 486,281.2 490,284.5 537,285 537,310.7 480,310.5 465,310.5 445,311 440,317 430,324.4 420,310 412,312 404.7,301.9 397,322 391,325 386,302.7 377,318 368,323 358,347.5 337,338 331,320.6 328,312 321,309 321.4,290" fill="#08f808" stroke="none" stroke-width="0.6"/>
<polygon points="310.1,268.4 321.4,262.1 331,285 340,295 350,299 360,289.2 377,287.3 387,285.5 400,284.5 440,284.1 480,283.3 510,282.4 536,283.8 536,291 490,293 450,296 420,297.5 400,296 377,296.6 360,297.5 350,303 340,303 331,306 321.4,307 316,318 310.1,333" fill="#dcdcdc" stroke="none" stroke-width="0.6"/>
<polygon points="350,303 360,297.5 377,296.6 400,296 420,297.5 450,296 490,293 536,291 536,310 500,308 465,308 452,305 440,305 425,305 415,308 406,308 400,302.7 393,302.7 389,300 377,300 365,310 355,312 350,306" fill="#f2a83e" stroke="none" stroke-width="0.6"/>
<polyline points="321.4,262.6 326,273 331,286" fill="none" stroke="#e89a40" stroke-width="1.4" stroke-linejoin="round"/>
<polygon points="320,308.4 330.4,316 321.8,324.6" fill="#08f808" stroke="none" stroke-width="0.6"/>
<polyline points="312.1,302.4 321.4,324.7 330.7,310.1 340.1,290.4 349.4,278.1 358.7,300.3 368,295.3 377.3,297.1 386.7,268.3 396,301.2 405.3,309.6 414.6,304.4 423.9,305.9 433.3,304 442.6,308.7 451.9,303.1 461.2,305.9 470.5,305 479.9,309.6 489.2,303.1 498.5,301.3 507.8,298.7 517.1,299.9 526.5,298.7 535.8,297.9" fill="none" stroke="#555" stroke-width="0.6" stroke-linejoin="round"/>
<polyline points="312.1,305 321.4,330.7 330.7,313 340.1,295.2 349.4,284.4 358.7,303.4 368,305.8 377.3,299.7 386.7,272 396,303.4 405.3,317.3 414.6,307 423.9,308.7 433.3,307.7 442.6,314.8 451.9,307.7 461.2,309.2 470.5,309.6 479.9,311.8 489.2,309.6 498.5,305.6 507.8,303.9 517.1,305.1 526.5,303.9 535.8,301.3" fill="none" stroke="#555" stroke-width="0.6" stroke-linejoin="round"/>
<polyline points="312.1,307.5 321.4,333.6 330.7,315.8 340.1,298.1 349.4,287.3 358.7,305.8 368,308.6 377.3,310.5 386.7,291.6 396,316 405.3,323.8 414.6,317.3 423.9,311.4 433.3,311.4 442.6,321 451.9,318.4 461.2,316 470.5,314.2 479.9,313.6 489.2,312.9 498.5,311.6 507.8,309.9 517.1,309.5 526.5,308.2 535.8,305.6" fill="none" stroke="#888" stroke-width="0.6" stroke-linejoin="round"/>
<polyline points="312.1,323 321.4,336.3 330.7,321.6 340.1,301 349.4,290.4 358.7,305.8 368,311.4 377.3,313.8 386.7,297.5 396,320.6 405.3,333.6 414.6,322.4 423.9,311.4 433.3,313.3 442.6,322.9 451.9,322.5 461.2,318.8 470.5,317 479.9,313.6 489.2,316 498.5,315 507.8,309.9 517.1,309.5 526.5,308.2 535.8,309.9" fill="none" stroke="#888" stroke-width="0.6" stroke-linejoin="round"/>
<polyline points="312.1,329.5 321.4,336.3 330.7,325 340.1,301 349.4,290.4 358.7,305.8 368,317.5 377.3,319.7 386.7,298.4 396,325 405.3,339.6 414.6,327.6 423.9,311.4 433.3,313.3 442.6,325.3 451.9,334 461.2,320.7 470.5,318.8 479.9,313.6 489.2,316 498.5,315 507.8,309.9 517.1,309.5 526.5,308.2 535.8,309.9" fill="none" stroke="#888" stroke-width="0.6" stroke-linejoin="round"/>
<polyline points="312.1,323 321.4,308.4 330.7,307.5 340,303.3 349.4,298.1 358.7,290 368,282.6 377.3,282.4 386.7,282.7 396,286.4 405.4,284.8 415,287.3 425,285.5 445,284.8 470,285.5 480,288.8 490,287.6 506,285.5 535.8,286.2" fill="none" stroke="#e8202a" stroke-width="1.2" stroke-linejoin="round"/>
<circle cx="312.1" cy="302.4" r="1.9" fill="#0e0ee6" stroke="#06064a" stroke-width="0.5"/>
<circle cx="321.4" cy="324.7" r="1.9" fill="#0e0ee6" stroke="#06064a" stroke-width="0.5"/>
<circle cx="330.7" cy="310.1" r="1.9" fill="#0e0ee6" stroke="#06064a" stroke-width="0.5"/>
<circle cx="340.1" cy="290.4" r="1.9" fill="#0e0ee6" stroke="#06064a" stroke-width="0.5"/>
<circle cx="349.4" cy="278.1" r="1.9" fill="#0e0ee6" stroke="#06064a" stroke-width="0.5"/>
<circle cx="358.7" cy="300.3" r="1.9" fill="#0e0ee6" stroke="#06064a" stroke-width="0.5"/>
<circle cx="368" cy="295.3" r="1.9" fill="#0e0ee6" stroke="#06064a" stroke-width="0.5"/>
<circle cx="377.3" cy="297.1" r="1.9" fill="#0e0ee6" stroke="#06064a" stroke-width="0.5"/>
<circle cx="386.7" cy="268.3" r="1.9" fill="#0e0ee6" stroke="#06064a" stroke-width="0.5"/>
<circle cx="396" cy="301.2" r="1.9" fill="#0e0ee6" stroke="#06064a" stroke-width="0.5"/>
<circle cx="405.3" cy="309.6" r="1.9" fill="#0e0ee6" stroke="#06064a" stroke-width="0.5"/>
<circle cx="414.6" cy="304.4" r="1.9" fill="#0e0ee6" stroke="#06064a" stroke-width="0.5"/>
<circle cx="423.9" cy="305.9" r="1.9" fill="#0e0ee6" stroke="#06064a" stroke-width="0.5"/>
<circle cx="433.3" cy="304" r="1.9" fill="#0e0ee6" stroke="#06064a" stroke-width="0.5"/>
<circle cx="442.6" cy="308.7" r="1.9" fill="#0e0ee6" stroke="#06064a" stroke-width="0.5"/>
<circle cx="451.9" cy="303.1" r="1.9" fill="#0e0ee6" stroke="#06064a" stroke-width="0.5"/>
<circle cx="461.2" cy="305.9" r="1.9" fill="#0e0ee6" stroke="#06064a" stroke-width="0.5"/>
<circle cx="470.5" cy="305" r="1.9" fill="#0e0ee6" stroke="#06064a" stroke-width="0.5"/>
<circle cx="479.9" cy="309.6" r="1.9" fill="#0e0ee6" stroke="#06064a" stroke-width="0.5"/>
<circle cx="489.2" cy="303.1" r="1.9" fill="#0e0ee6" stroke="#06064a" stroke-width="0.5"/>
<circle cx="498.5" cy="301.3" r="1.9" fill="#0e0ee6" stroke="#06064a" stroke-width="0.5"/>
<circle cx="507.8" cy="298.7" r="1.9" fill="#0e0ee6" stroke="#06064a" stroke-width="0.5"/>
<circle cx="517.1" cy="299.9" r="1.9" fill="#0e0ee6" stroke="#06064a" stroke-width="0.5"/>
<circle cx="526.5" cy="298.7" r="1.9" fill="#0e0ee6" stroke="#06064a" stroke-width="0.5"/>
<circle cx="535.8" cy="297.9" r="1.9" fill="#0e0ee6" stroke="#06064a" stroke-width="0.5"/>
<circle cx="312.1" cy="305" r="1.9" fill="#0e0ee6" stroke="#06064a" stroke-width="0.5"/>
<circle cx="321.4" cy="330.7" r="1.9" fill="#0e0ee6" stroke="#06064a" stroke-width="0.5"/>
<circle cx="330.7" cy="313" r="1.9" fill="#0e0ee6" stroke="#06064a" stroke-width="0.5"/>
<circle cx="340.1" cy="295.2" r="1.9" fill="#0e0ee6" stroke="#06064a" stroke-width="0.5"/>
<circle cx="349.4" cy="284.4" r="1.9" fill="#0e0ee6" stroke="#06064a" stroke-width="0.5"/>
<circle cx="358.7" cy="303.4" r="1.9" fill="#0e0ee6" stroke="#06064a" stroke-width="0.5"/>
<circle cx="368" cy="305.8" r="1.9" fill="#0e0ee6" stroke="#06064a" stroke-width="0.5"/>
<circle cx="377.3" cy="299.7" r="1.9" fill="#0e0ee6" stroke="#06064a" stroke-width="0.5"/>
<circle cx="386.7" cy="272" r="1.9" fill="#0e0ee6" stroke="#06064a" stroke-width="0.5"/>
<circle cx="396" cy="303.4" r="1.9" fill="#0e0ee6" stroke="#06064a" stroke-width="0.5"/>
<circle cx="405.3" cy="317.3" r="1.9" fill="#0e0ee6" stroke="#06064a" stroke-width="0.5"/>
<circle cx="414.6" cy="307" r="1.9" fill="#0e0ee6" stroke="#06064a" stroke-width="0.5"/>
<circle cx="423.9" cy="308.7" r="1.9" fill="#0e0ee6" stroke="#06064a" stroke-width="0.5"/>
<circle cx="433.3" cy="307.7" r="1.9" fill="#0e0ee6" stroke="#06064a" stroke-width="0.5"/>
<circle cx="442.6" cy="314.8" r="1.9" fill="#0e0ee6" stroke="#06064a" stroke-width="0.5"/>
<circle cx="451.9" cy="307.7" r="1.9" fill="#0e0ee6" stroke="#06064a" stroke-width="0.5"/>
<circle cx="461.2" cy="309.2" r="1.9" fill="#0e0ee6" stroke="#06064a" stroke-width="0.5"/>
<circle cx="470.5" cy="309.6" r="1.9" fill="#0e0ee6" stroke="#06064a" stroke-width="0.5"/>
<circle cx="479.9" cy="311.8" r="1.9" fill="#0e0ee6" stroke="#06064a" stroke-width="0.5"/>
<circle cx="489.2" cy="309.6" r="1.9" fill="#0e0ee6" stroke="#06064a" stroke-width="0.5"/>
<circle cx="498.5" cy="305.6" r="1.9" fill="#0e0ee6" stroke="#06064a" stroke-width="0.5"/>
<circle cx="507.8" cy="303.9" r="1.9" fill="#0e0ee6" stroke="#06064a" stroke-width="0.5"/>
<circle cx="517.1" cy="305.1" r="1.9" fill="#0e0ee6" stroke="#06064a" stroke-width="0.5"/>
<circle cx="526.5" cy="303.9" r="1.9" fill="#0e0ee6" stroke="#06064a" stroke-width="0.5"/>
<circle cx="535.8" cy="301.3" r="1.9" fill="#0e0ee6" stroke="#06064a" stroke-width="0.5"/>
<circle cx="312.1" cy="307.5" r="1.9" fill="#0e0ee6" stroke="#06064a" stroke-width="0.5"/>
<circle cx="321.4" cy="333.6" r="1.9" fill="#0e0ee6" stroke="#06064a" stroke-width="0.5"/>
<circle cx="330.7" cy="315.8" r="1.9" fill="#0e0ee6" stroke="#06064a" stroke-width="0.5"/>
<circle cx="340.1" cy="298.1" r="1.9" fill="#0e0ee6" stroke="#06064a" stroke-width="0.5"/>
<circle cx="349.4" cy="287.3" r="1.9" fill="#0e0ee6" stroke="#06064a" stroke-width="0.5"/>
<circle cx="358.7" cy="305.8" r="1.9" fill="#0e0ee6" stroke="#06064a" stroke-width="0.5"/>
<circle cx="368" cy="308.6" r="1.9" fill="#0e0ee6" stroke="#06064a" stroke-width="0.5"/>
<circle cx="377.3" cy="310.5" r="1.9" fill="#0e0ee6" stroke="#06064a" stroke-width="0.5"/>
<circle cx="386.7" cy="291.6" r="1.9" fill="#0e0ee6" stroke="#06064a" stroke-width="0.5"/>
<circle cx="396" cy="316" r="1.9" fill="#0e0ee6" stroke="#06064a" stroke-width="0.5"/>
<circle cx="405.3" cy="323.8" r="1.9" fill="#0e0ee6" stroke="#06064a" stroke-width="0.5"/>
<circle cx="414.6" cy="317.3" r="1.9" fill="#0e0ee6" stroke="#06064a" stroke-width="0.5"/>
<circle cx="423.9" cy="311.4" r="1.9" fill="#0e0ee6" stroke="#06064a" stroke-width="0.5"/>
<circle cx="433.3" cy="311.4" r="1.9" fill="#0e0ee6" stroke="#06064a" stroke-width="0.5"/>
<circle cx="442.6" cy="321" r="1.9" fill="#0e0ee6" stroke="#06064a" stroke-width="0.5"/>
<circle cx="451.9" cy="318.4" r="1.9" fill="#0e0ee6" stroke="#06064a" stroke-width="0.5"/>
<circle cx="461.2" cy="316" r="1.9" fill="#0e0ee6" stroke="#06064a" stroke-width="0.5"/>
<circle cx="470.5" cy="314.2" r="1.9" fill="#0e0ee6" stroke="#06064a" stroke-width="0.5"/>
<circle cx="479.9" cy="313.6" r="1.9" fill="#0e0ee6" stroke="#06064a" stroke-width="0.5"/>
<circle cx="489.2" cy="312.9" r="1.9" fill="#0e0ee6" stroke="#06064a" stroke-width="0.5"/>
<circle cx="498.5" cy="311.6" r="1.9" fill="#0e0ee6" stroke="#06064a" stroke-width="0.5"/>
<circle cx="507.8" cy="309.9" r="1.9" fill="#0e0ee6" stroke="#06064a" stroke-width="0.5"/>
<circle cx="517.1" cy="309.5" r="1.9" fill="#0e0ee6" stroke="#06064a" stroke-width="0.5"/>
<circle cx="526.5" cy="308.2" r="1.9" fill="#0e0ee6" stroke="#06064a" stroke-width="0.5"/>
<circle cx="535.8" cy="305.6" r="1.9" fill="#0e0ee6" stroke="#06064a" stroke-width="0.5"/>
<circle cx="312.1" cy="323" r="1.9" fill="#0e0ee6" stroke="#06064a" stroke-width="0.5"/>
<circle cx="321.4" cy="336.3" r="1.9" fill="#0e0ee6" stroke="#06064a" stroke-width="0.5"/>
<circle cx="330.7" cy="321.6" r="1.9" fill="#0e0ee6" stroke="#06064a" stroke-width="0.5"/>
<circle cx="340.1" cy="301" r="1.9" fill="#0e0ee6" stroke="#06064a" stroke-width="0.5"/>
<circle cx="349.4" cy="290.4" r="1.9" fill="#0e0ee6" stroke="#06064a" stroke-width="0.5"/>
<circle cx="358.7" cy="305.8" r="1.9" fill="#0e0ee6" stroke="#06064a" stroke-width="0.5"/>
<circle cx="368" cy="311.4" r="1.9" fill="#0e0ee6" stroke="#06064a" stroke-width="0.5"/>
<circle cx="377.3" cy="313.8" r="1.9" fill="#0e0ee6" stroke="#06064a" stroke-width="0.5"/>
<circle cx="386.7" cy="297.5" r="1.9" fill="#0e0ee6" stroke="#06064a" stroke-width="0.5"/>
<circle cx="396" cy="320.6" r="1.9" fill="#0e0ee6" stroke="#06064a" stroke-width="0.5"/>
<circle cx="405.3" cy="333.6" r="1.9" fill="#0e0ee6" stroke="#06064a" stroke-width="0.5"/>
<circle cx="414.6" cy="322.4" r="1.9" fill="#0e0ee6" stroke="#06064a" stroke-width="0.5"/>
<circle cx="423.9" cy="311.4" r="1.9" fill="#0e0ee6" stroke="#06064a" stroke-width="0.5"/>
<circle cx="433.3" cy="313.3" r="1.9" fill="#0e0ee6" stroke="#06064a" stroke-width="0.5"/>
<circle cx="442.6" cy="322.9" r="1.9" fill="#0e0ee6" stroke="#06064a" stroke-width="0.5"/>
<circle cx="451.9" cy="322.5" r="1.9" fill="#0e0ee6" stroke="#06064a" stroke-width="0.5"/>
<circle cx="461.2" cy="318.8" r="1.9" fill="#0e0ee6" stroke="#06064a" stroke-width="0.5"/>
<circle cx="470.5" cy="317" r="1.9" fill="#0e0ee6" stroke="#06064a" stroke-width="0.5"/>
<circle cx="479.9" cy="313.6" r="1.9" fill="#0e0ee6" stroke="#06064a" stroke-width="0.5"/>
<circle cx="489.2" cy="316" r="1.9" fill="#0e0ee6" stroke="#06064a" stroke-width="0.5"/>
<circle cx="498.5" cy="315" r="1.9" fill="#0e0ee6" stroke="#06064a" stroke-width="0.5"/>
<circle cx="507.8" cy="309.9" r="1.9" fill="#0e0ee6" stroke="#06064a" stroke-width="0.5"/>
<circle cx="517.1" cy="309.5" r="1.9" fill="#0e0ee6" stroke="#06064a" stroke-width="0.5"/>
<circle cx="526.5" cy="308.2" r="1.9" fill="#0e0ee6" stroke="#06064a" stroke-width="0.5"/>
<circle cx="535.8" cy="309.9" r="1.9" fill="#0e0ee6" stroke="#06064a" stroke-width="0.5"/>
<circle cx="312.1" cy="329.5" r="1.9" fill="#0e0ee6" stroke="#06064a" stroke-width="0.5"/>
<circle cx="321.4" cy="336.3" r="1.9" fill="#0e0ee6" stroke="#06064a" stroke-width="0.5"/>
<circle cx="330.7" cy="325" r="1.9" fill="#0e0ee6" stroke="#06064a" stroke-width="0.5"/>
<circle cx="340.1" cy="301" r="1.9" fill="#0e0ee6" stroke="#06064a" stroke-width="0.5"/>
<circle cx="349.4" cy="290.4" r="1.9" fill="#0e0ee6" stroke="#06064a" stroke-width="0.5"/>
<circle cx="358.7" cy="305.8" r="1.9" fill="#0e0ee6" stroke="#06064a" stroke-width="0.5"/>
<circle cx="368" cy="317.5" r="1.9" fill="#0e0ee6" stroke="#06064a" stroke-width="0.5"/>
<circle cx="377.3" cy="319.7" r="1.9" fill="#0e0ee6" stroke="#06064a" stroke-width="0.5"/>
<circle cx="386.7" cy="298.4" r="1.9" fill="#0e0ee6" stroke="#06064a" stroke-width="0.5"/>
<circle cx="396" cy="325" r="1.9" fill="#0e0ee6" stroke="#06064a" stroke-width="0.5"/>
<circle cx="405.3" cy="339.6" r="1.9" fill="#0e0ee6" stroke="#06064a" stroke-width="0.5"/>
<circle cx="414.6" cy="327.6" r="1.9" fill="#0e0ee6" stroke="#06064a" stroke-width="0.5"/>
<circle cx="423.9" cy="311.4" r="1.9" fill="#0e0ee6" stroke="#06064a" stroke-width="0.5"/>
<circle cx="433.3" cy="313.3" r="1.9" fill="#0e0ee6" stroke="#06064a" stroke-width="0.5"/>
<circle cx="442.6" cy="325.3" r="1.9" fill="#0e0ee6" stroke="#06064a" stroke-width="0.5"/>
<circle cx="451.9" cy="334" r="1.9" fill="#0e0ee6" stroke="#06064a" stroke-width="0.5"/>
<circle cx="461.2" cy="320.7" r="1.9" fill="#0e0ee6" stroke="#06064a" stroke-width="0.5"/>
<circle cx="470.5" cy="318.8" r="1.9" fill="#0e0ee6" stroke="#06064a" stroke-width="0.5"/>
<circle cx="479.9" cy="313.6" r="1.9" fill="#0e0ee6" stroke="#06064a" stroke-width="0.5"/>
<circle cx="489.2" cy="316" r="1.9" fill="#0e0ee6" stroke="#06064a" stroke-width="0.5"/>
<circle cx="498.5" cy="315" r="1.9" fill="#0e0ee6" stroke="#06064a" stroke-width="0.5"/>
<circle cx="507.8" cy="309.9" r="1.9" fill="#0e0ee6" stroke="#06064a" stroke-width="0.5"/>
<circle cx="517.1" cy="309.5" r="1.9" fill="#0e0ee6" stroke="#06064a" stroke-width="0.5"/>
<circle cx="526.5" cy="308.2" r="1.9" fill="#0e0ee6" stroke="#06064a" stroke-width="0.5"/>
<circle cx="535.8" cy="309.9" r="1.9" fill="#0e0ee6" stroke="#06064a" stroke-width="0.5"/>
<text x="422.3" y="261.2" font-size="5.3" fill="#333" stroke="#333" stroke-width="0.15" text-anchor="start" font-weight="bold" textLength="9.4" lengthAdjust="spacingAndGlyphs">BABB</text>
<text x="411.4" y="267.3" font-size="5.3" fill="#333" stroke="#333" stroke-width="0.15" text-anchor="start" font-weight="bold" textLength="34.3" lengthAdjust="spacingAndGlyphs">(Bozovic 2013)</text>
<line x1="400" y1="276.8" x2="410.2" y2="269.5" stroke="#333" stroke-width="0.6"/>
<polygon points="410.2,269.5 408.7,272.3 407.1,270" fill="#333" stroke="none" stroke-width="0.6"/>
<text x="458.4" y="268.9" font-size="5.3" fill="#333" stroke="#333" stroke-width="0.15" text-anchor="start" font-weight="bold" textLength="31.8" lengthAdjust="spacingAndGlyphs">FAB Izu-Bonin</text>
<line x1="462.5" y1="291.4" x2="467.2" y2="271" stroke="#333" stroke-width="0.6"/>
<polygon points="467.2,271 467.9,274 465.2,273.4" fill="#333" stroke="none" stroke-width="0.6"/>
<text x="494" y="262.2" font-size="5.6" fill="#222" stroke="#222" stroke-width="0.15" text-anchor="start" font-weight="bold" textLength="26.8" lengthAdjust="spacingAndGlyphs">Transitional</text>
<line x1="498" y1="295.3" x2="504" y2="265.6" stroke="#333" stroke-width="0.6"/>
<polygon points="504,265.6 504.8,268.6 502.1,268.1" fill="#333" stroke="none" stroke-width="0.6"/>
<text x="511.4" y="280.1" font-size="5.4" fill="#e8202a" stroke="#e8202a" stroke-width="0.15" text-anchor="start" font-weight="bold" textLength="19.6" lengthAdjust="spacingAndGlyphs">N-MORB</text>
<line x1="469.5" y1="340.2" x2="500.7" y2="340.2" stroke="#999" stroke-width="0.8"/>
<circle cx="485.5" cy="340.2" r="2" fill="#0e0ee6" stroke="#06064a" stroke-width="0.5"/>
<text x="505.1" y="342.5" font-size="6.4" fill="#333" stroke="#333" stroke-width="0.04" text-anchor="start" font-weight="normal" textLength="18.6" lengthAdjust="spacingAndGlyphs">Basalts</text>
<circle cx="310.6" cy="265" r="5.3" fill="none" stroke="#555" stroke-width="0.75"/>
<text x="310.6" y="269.6" font-size="11" fill="#111" stroke="#111" stroke-width="0.15" text-anchor="middle" font-weight="normal">f</text>
<path d="M295.8 254.8 H545 V359" fill="none" stroke="#8a8a8a" stroke-width="1.2"/>
<line x1="295.8" y1="359" x2="302.3" y2="359" stroke="#666" stroke-width="1.0"/>
<line x1="298.8" y1="351.2" x2="302.3" y2="351.2" stroke="#555" stroke-width="0.8"/>
<line x1="298.8" y1="346.6" x2="302.3" y2="346.6" stroke="#555" stroke-width="0.8"/>
<line x1="298.8" y1="343.3" x2="302.3" y2="343.3" stroke="#555" stroke-width="0.8"/>
<line x1="298.8" y1="340.8" x2="302.3" y2="340.8" stroke="#555" stroke-width="0.8"/>
<line x1="298.8" y1="338.8" x2="302.3" y2="338.8" stroke="#555" stroke-width="0.8"/>
<line x1="298.8" y1="337" x2="302.3" y2="337" stroke="#555" stroke-width="0.8"/>
<line x1="298.8" y1="335.5" x2="302.3" y2="335.5" stroke="#555" stroke-width="0.8"/>
<line x1="298.8" y1="334.2" x2="302.3" y2="334.2" stroke="#555" stroke-width="0.8"/>
<line x1="295.8" y1="333" x2="302.3" y2="333" stroke="#666" stroke-width="1.0"/>
<line x1="298.8" y1="325.2" x2="302.3" y2="325.2" stroke="#555" stroke-width="0.8"/>
<line x1="298.8" y1="320.6" x2="302.3" y2="320.6" stroke="#555" stroke-width="0.8"/>
<line x1="298.8" y1="317.3" x2="302.3" y2="317.3" stroke="#555" stroke-width="0.8"/>
<line x1="298.8" y1="314.8" x2="302.3" y2="314.8" stroke="#555" stroke-width="0.8"/>
<line x1="298.8" y1="312.8" x2="302.3" y2="312.8" stroke="#555" stroke-width="0.8"/>
<line x1="298.8" y1="311" x2="302.3" y2="311" stroke="#555" stroke-width="0.8"/>
<line x1="298.8" y1="309.5" x2="302.3" y2="309.5" stroke="#555" stroke-width="0.8"/>
<line x1="298.8" y1="308.2" x2="302.3" y2="308.2" stroke="#555" stroke-width="0.8"/>
<line x1="295.8" y1="307" x2="302.3" y2="307" stroke="#666" stroke-width="1.0"/>
<line x1="298.8" y1="299.2" x2="302.3" y2="299.2" stroke="#555" stroke-width="0.8"/>
<line x1="298.8" y1="294.6" x2="302.3" y2="294.6" stroke="#555" stroke-width="0.8"/>
<line x1="298.8" y1="291.3" x2="302.3" y2="291.3" stroke="#555" stroke-width="0.8"/>
<line x1="298.8" y1="288.8" x2="302.3" y2="288.8" stroke="#555" stroke-width="0.8"/>
<line x1="298.8" y1="286.8" x2="302.3" y2="286.8" stroke="#555" stroke-width="0.8"/>
<line x1="298.8" y1="285" x2="302.3" y2="285" stroke="#555" stroke-width="0.8"/>
<line x1="298.8" y1="283.5" x2="302.3" y2="283.5" stroke="#555" stroke-width="0.8"/>
<line x1="298.8" y1="282.2" x2="302.3" y2="282.2" stroke="#555" stroke-width="0.8"/>
<line x1="295.8" y1="281" x2="302.3" y2="281" stroke="#666" stroke-width="1.0"/>
<line x1="298.8" y1="273.2" x2="302.3" y2="273.2" stroke="#555" stroke-width="0.8"/>
<line x1="298.8" y1="268.6" x2="302.3" y2="268.6" stroke="#555" stroke-width="0.8"/>
<line x1="298.8" y1="265.3" x2="302.3" y2="265.3" stroke="#555" stroke-width="0.8"/>
<line x1="298.8" y1="262.8" x2="302.3" y2="262.8" stroke="#555" stroke-width="0.8"/>
<line x1="298.8" y1="260.8" x2="302.3" y2="260.8" stroke="#555" stroke-width="0.8"/>
<line x1="298.8" y1="259" x2="302.3" y2="259" stroke="#555" stroke-width="0.8"/>
<line x1="298.8" y1="257.5" x2="302.3" y2="257.5" stroke="#555" stroke-width="0.8"/>
<line x1="298.8" y1="256.2" x2="302.3" y2="256.2" stroke="#555" stroke-width="0.8"/>
<path d="M302.3 254.8 V359 H545.6" fill="none" stroke="#555" stroke-width="1.3"/>
<line x1="295.8" y1="359" x2="302.3" y2="359" stroke="#555" stroke-width="1.3"/>
<line x1="312.1" y1="359" x2="312.1" y2="361" stroke="#666" stroke-width="0.8"/>
<line x1="321.4" y1="359" x2="321.4" y2="361" stroke="#666" stroke-width="0.8"/>
<line x1="330.7" y1="359" x2="330.7" y2="361" stroke="#666" stroke-width="0.8"/>
<line x1="340.1" y1="359" x2="340.1" y2="361" stroke="#666" stroke-width="0.8"/>
<line x1="349.4" y1="359" x2="349.4" y2="361" stroke="#666" stroke-width="0.8"/>
<line x1="358.7" y1="359" x2="358.7" y2="361" stroke="#666" stroke-width="0.8"/>
<line x1="368" y1="359" x2="368" y2="361" stroke="#666" stroke-width="0.8"/>
<line x1="377.3" y1="359" x2="377.3" y2="361" stroke="#666" stroke-width="0.8"/>
<line x1="386.7" y1="359" x2="386.7" y2="361" stroke="#666" stroke-width="0.8"/>
<line x1="396" y1="359" x2="396" y2="361" stroke="#666" stroke-width="0.8"/>
<line x1="405.3" y1="359" x2="405.3" y2="361" stroke="#666" stroke-width="0.8"/>
<line x1="414.6" y1="359" x2="414.6" y2="361" stroke="#666" stroke-width="0.8"/>
<line x1="423.9" y1="359" x2="423.9" y2="361" stroke="#666" stroke-width="0.8"/>
<line x1="433.3" y1="359" x2="433.3" y2="361" stroke="#666" stroke-width="0.8"/>
<line x1="442.6" y1="359" x2="442.6" y2="361" stroke="#666" stroke-width="0.8"/>
<line x1="451.9" y1="359" x2="451.9" y2="361" stroke="#666" stroke-width="0.8"/>
<line x1="461.2" y1="359" x2="461.2" y2="361" stroke="#666" stroke-width="0.8"/>
<line x1="470.5" y1="359" x2="470.5" y2="361" stroke="#666" stroke-width="0.8"/>
<line x1="479.9" y1="359" x2="479.9" y2="361" stroke="#666" stroke-width="0.8"/>
<line x1="489.2" y1="359" x2="489.2" y2="361" stroke="#666" stroke-width="0.8"/>
<line x1="498.5" y1="359" x2="498.5" y2="361" stroke="#666" stroke-width="0.8"/>
<line x1="507.8" y1="359" x2="507.8" y2="361" stroke="#666" stroke-width="0.8"/>
<line x1="517.1" y1="359" x2="517.1" y2="361" stroke="#666" stroke-width="0.8"/>
<line x1="526.5" y1="359" x2="526.5" y2="361" stroke="#666" stroke-width="0.8"/>
<line x1="535.8" y1="359" x2="535.8" y2="361" stroke="#666" stroke-width="0.8"/>
<text x="292.2" y="257.1" font-size="5.8" fill="#3c3c3c" stroke="#3c3c3c" stroke-width="0.05" text-anchor="end" font-weight="normal">100</text>
<text x="292.2" y="283.1" font-size="5.8" fill="#3c3c3c" stroke="#3c3c3c" stroke-width="0.05" text-anchor="end" font-weight="normal">10</text>
<text x="292.2" y="309.1" font-size="5.8" fill="#3c3c3c" stroke="#3c3c3c" stroke-width="0.05" text-anchor="end" font-weight="normal">1</text>
<text x="292.2" y="335.1" font-size="5.8" fill="#3c3c3c" stroke="#3c3c3c" stroke-width="0.05" text-anchor="end" font-weight="normal">0.1</text>
<text x="292.2" y="361.1" font-size="5.8" fill="#3c3c3c" stroke="#3c3c3c" stroke-width="0.05" text-anchor="end" font-weight="normal">0.01</text>
<text x="312.1" y="371.1" font-size="6" fill="#3c3c3c" stroke="#3c3c3c" stroke-width="0.05" text-anchor="middle" font-weight="normal">Cs</text>
<text x="321.4" y="371.1" font-size="6" fill="#3c3c3c" stroke="#3c3c3c" stroke-width="0.05" text-anchor="middle" font-weight="normal">Rb</text>
<text x="330.7" y="371.1" font-size="6" fill="#3c3c3c" stroke="#3c3c3c" stroke-width="0.05" text-anchor="middle" font-weight="normal">Ba</text>
<text x="340.1" y="371.1" font-size="6" fill="#3c3c3c" stroke="#3c3c3c" stroke-width="0.05" text-anchor="middle" font-weight="normal">Th</text>
<text x="349.4" y="371.1" font-size="6" fill="#3c3c3c" stroke="#3c3c3c" stroke-width="0.05" text-anchor="middle" font-weight="normal">U</text>
<text x="358.7" y="371.1" font-size="6" fill="#3c3c3c" stroke="#3c3c3c" stroke-width="0.05" text-anchor="middle" font-weight="normal">Nb</text>
<text x="368" y="371.1" font-size="6" fill="#3c3c3c" stroke="#3c3c3c" stroke-width="0.05" text-anchor="middle" font-weight="normal">La</text>
<text x="377.3" y="371.1" font-size="6" fill="#3c3c3c" stroke="#3c3c3c" stroke-width="0.05" text-anchor="middle" font-weight="normal">Ce</text>
<text x="386.7" y="371.1" font-size="6" fill="#3c3c3c" stroke="#3c3c3c" stroke-width="0.05" text-anchor="middle" font-weight="normal">Pb</text>
<text x="396" y="371.1" font-size="6" fill="#3c3c3c" stroke="#3c3c3c" stroke-width="0.05" text-anchor="middle" font-weight="normal">Pr</text>
<text x="405.3" y="371.1" font-size="6" fill="#3c3c3c" stroke="#3c3c3c" stroke-width="0.05" text-anchor="middle" font-weight="normal">Sr</text>
<text x="414.6" y="371.1" font-size="6" fill="#3c3c3c" stroke="#3c3c3c" stroke-width="0.05" text-anchor="middle" font-weight="normal">Nd</text>
<text x="423.9" y="371.1" font-size="6" fill="#3c3c3c" stroke="#3c3c3c" stroke-width="0.05" text-anchor="middle" font-weight="normal">Zr</text>
<text x="433.3" y="371.1" font-size="6" fill="#3c3c3c" stroke="#3c3c3c" stroke-width="0.05" text-anchor="middle" font-weight="normal">Hf</text>
<text x="442.6" y="371.1" font-size="6" fill="#3c3c3c" stroke="#3c3c3c" stroke-width="0.05" text-anchor="middle" font-weight="normal">Sm</text>
<text x="451.9" y="371.1" font-size="6" fill="#3c3c3c" stroke="#3c3c3c" stroke-width="0.05" text-anchor="middle" font-weight="normal">Eu</text>
<text x="461.2" y="371.1" font-size="6" fill="#3c3c3c" stroke="#3c3c3c" stroke-width="0.05" text-anchor="middle" font-weight="normal">Gd</text>
<text x="470.5" y="371.1" font-size="6" fill="#3c3c3c" stroke="#3c3c3c" stroke-width="0.05" text-anchor="middle" font-weight="normal">Tb</text>
<text x="479.9" y="371.1" font-size="6" fill="#3c3c3c" stroke="#3c3c3c" stroke-width="0.05" text-anchor="middle" font-weight="normal">Ti</text>
<text x="489.2" y="371.1" font-size="6" fill="#3c3c3c" stroke="#3c3c3c" stroke-width="0.05" text-anchor="middle" font-weight="normal">Dy</text>
<text x="498.5" y="371.1" font-size="6" fill="#3c3c3c" stroke="#3c3c3c" stroke-width="0.05" text-anchor="middle" font-weight="normal">Ho</text>
<text x="507.8" y="371.1" font-size="6" fill="#3c3c3c" stroke="#3c3c3c" stroke-width="0.05" text-anchor="middle" font-weight="normal">Er</text>
<text x="517.1" y="371.1" font-size="6" fill="#3c3c3c" stroke="#3c3c3c" stroke-width="0.05" text-anchor="middle" font-weight="normal">Yb</text>
<text x="526.5" y="371.1" font-size="6" fill="#3c3c3c" stroke="#3c3c3c" stroke-width="0.05" text-anchor="middle" font-weight="normal">Lu</text>
<text x="535.8" y="371.1" font-size="6" fill="#3c3c3c" stroke="#3c3c3c" stroke-width="0.05" text-anchor="middle" font-weight="normal">Y</text>
<text transform="translate(279.8 303.7) rotate(-90)" font-size="5.3" fill="#3c3c3c" stroke="#3c3c3c" stroke-width="0.05" text-anchor="middle">Rock/Primitive mantle</text>
</svg></body></html>
